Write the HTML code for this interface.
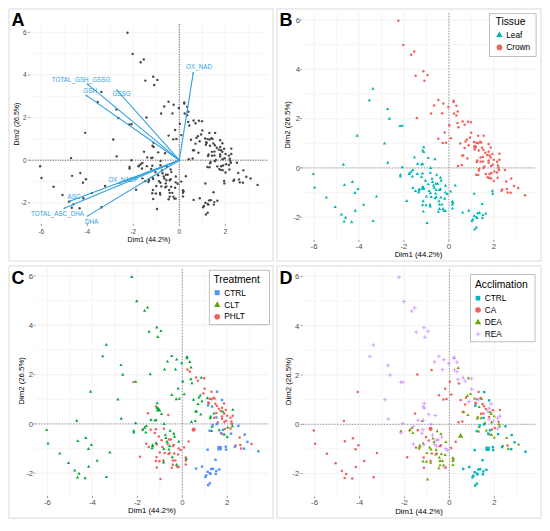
<!DOCTYPE html><html><head><meta charset="utf-8"><style>html,body{margin:0;padding:0;background:#fff;width:550px;height:531px;overflow:hidden}svg{display:block}</style></head><body><svg width="550" height="531" viewBox="0 0 550 531" font-family='"Liberation Sans", sans-serif'>
<rect width="550" height="531" fill="#fff"/>
<rect x="9" y="9" width="264" height="252" fill="none" stroke="#e5e5e5" stroke-width="1.4"/>
<rect x="277" y="9" width="264" height="252" fill="none" stroke="#e5e5e5" stroke-width="1.4"/>
<rect x="9" y="266" width="264" height="252" fill="none" stroke="#e5e5e5" stroke-width="1.4"/>
<rect x="277" y="266" width="264" height="252" fill="none" stroke="#e5e5e5" stroke-width="1.4"/>
<line x1="41.30" y1="24" x2="41.30" y2="224" stroke="#f6f6f6" stroke-width="1.3"/>
<line x1="64.30" y1="24" x2="64.30" y2="224" stroke="#f8f8f8" stroke-width="1.3"/>
<line x1="87.30" y1="24" x2="87.30" y2="224" stroke="#f6f6f6" stroke-width="1.3"/>
<line x1="110.30" y1="24" x2="110.30" y2="224" stroke="#f8f8f8" stroke-width="1.3"/>
<line x1="133.30" y1="24" x2="133.30" y2="224" stroke="#f6f6f6" stroke-width="1.3"/>
<line x1="156.30" y1="24" x2="156.30" y2="224" stroke="#f8f8f8" stroke-width="1.3"/>
<line x1="179.30" y1="24" x2="179.30" y2="224" stroke="#f6f6f6" stroke-width="1.3"/>
<line x1="202.30" y1="24" x2="202.30" y2="224" stroke="#f8f8f8" stroke-width="1.3"/>
<line x1="225.30" y1="24" x2="225.30" y2="224" stroke="#f6f6f6" stroke-width="1.3"/>
<line x1="248.30" y1="24" x2="248.30" y2="224" stroke="#f8f8f8" stroke-width="1.3"/>
<line x1="30" y1="202.80" x2="268" y2="202.80" stroke="#f6f6f6" stroke-width="1.3"/>
<line x1="30" y1="181.50" x2="268" y2="181.50" stroke="#f8f8f8" stroke-width="1.3"/>
<line x1="30" y1="160.20" x2="268" y2="160.20" stroke="#f6f6f6" stroke-width="1.3"/>
<line x1="30" y1="138.90" x2="268" y2="138.90" stroke="#f8f8f8" stroke-width="1.3"/>
<line x1="30" y1="117.60" x2="268" y2="117.60" stroke="#f6f6f6" stroke-width="1.3"/>
<line x1="30" y1="96.30" x2="268" y2="96.30" stroke="#f8f8f8" stroke-width="1.3"/>
<line x1="30" y1="75.00" x2="268" y2="75.00" stroke="#f6f6f6" stroke-width="1.3"/>
<line x1="30" y1="53.70" x2="268" y2="53.70" stroke="#f8f8f8" stroke-width="1.3"/>
<line x1="30" y1="32.40" x2="268" y2="32.40" stroke="#f6f6f6" stroke-width="1.3"/>
<line x1="179.30" y1="24" x2="179.30" y2="224" stroke="#585858" stroke-width="0.9" stroke-dasharray="1.25 1.25"/>
<line x1="30" y1="160.20" x2="268" y2="160.20" stroke="#585858" stroke-width="0.9" stroke-dasharray="1.25 1.25"/>
<line x1="41.30" y1="224" x2="41.30" y2="226" stroke="#555" stroke-width="0.6"/>
<text x="41.30" y="233.5" font-size="6.5" fill="#4d4d4d" text-anchor="middle">-6</text>
<line x1="87.30" y1="224" x2="87.30" y2="226" stroke="#555" stroke-width="0.6"/>
<text x="87.30" y="233.5" font-size="6.5" fill="#4d4d4d" text-anchor="middle">-4</text>
<line x1="133.30" y1="224" x2="133.30" y2="226" stroke="#555" stroke-width="0.6"/>
<text x="133.30" y="233.5" font-size="6.5" fill="#4d4d4d" text-anchor="middle">-2</text>
<line x1="179.30" y1="224" x2="179.30" y2="226" stroke="#555" stroke-width="0.6"/>
<text x="179.30" y="233.5" font-size="6.5" fill="#4d4d4d" text-anchor="middle">0</text>
<line x1="225.30" y1="224" x2="225.30" y2="226" stroke="#555" stroke-width="0.6"/>
<text x="225.30" y="233.5" font-size="6.5" fill="#4d4d4d" text-anchor="middle">2</text>
<line x1="28" y1="202.80" x2="30" y2="202.80" stroke="#555" stroke-width="0.6"/>
<text x="26.5" y="205.14" font-size="6.5" fill="#4d4d4d" text-anchor="end">-2</text>
<line x1="28" y1="160.20" x2="30" y2="160.20" stroke="#555" stroke-width="0.6"/>
<text x="26.5" y="162.54" font-size="6.5" fill="#4d4d4d" text-anchor="end">0</text>
<line x1="28" y1="117.60" x2="30" y2="117.60" stroke="#555" stroke-width="0.6"/>
<text x="26.5" y="119.94" font-size="6.5" fill="#4d4d4d" text-anchor="end">2</text>
<line x1="28" y1="75.00" x2="30" y2="75.00" stroke="#555" stroke-width="0.6"/>
<text x="26.5" y="77.34" font-size="6.5" fill="#4d4d4d" text-anchor="end">4</text>
<line x1="28" y1="32.40" x2="30" y2="32.40" stroke="#555" stroke-width="0.6"/>
<text x="26.5" y="34.74" font-size="6.5" fill="#4d4d4d" text-anchor="end">6</text>
<text x="149.00" y="241.5" font-size="7" fill="#000" text-anchor="middle">Dim1 (44.2%)</text>
<text transform="translate(18.8,124.00) rotate(-90)" font-size="7" fill="#000" text-anchor="middle">Dim2 (26.5%)</text>
<circle cx="127.53" cy="32.70" r="1.2" fill="#474747"/>
<circle cx="132.66" cy="53.89" r="1.2" fill="#474747"/>
<circle cx="143.76" cy="59.39" r="1.2" fill="#474747"/>
<circle cx="140.68" cy="62.27" r="1.2" fill="#474747"/>
<circle cx="153.21" cy="76.74" r="1.2" fill="#474747"/>
<circle cx="157.42" cy="79.88" r="1.2" fill="#474747"/>
<circle cx="145.30" cy="80.58" r="1.2" fill="#474747"/>
<circle cx="154.23" cy="85.03" r="1.2" fill="#474747"/>
<circle cx="168.51" cy="101.69" r="1.2" fill="#474747"/>
<circle cx="173.65" cy="104.74" r="1.2" fill="#474747"/>
<circle cx="164.20" cy="106.57" r="1.2" fill="#474747"/>
<circle cx="178.78" cy="107.97" r="1.2" fill="#474747"/>
<circle cx="161.12" cy="113.55" r="1.2" fill="#474747"/>
<circle cx="172.42" cy="113.38" r="1.2" fill="#474747"/>
<circle cx="146.43" cy="117.56" r="1.2" fill="#474747"/>
<circle cx="179.91" cy="123.84" r="1.2" fill="#474747"/>
<circle cx="175.09" cy="130.04" r="1.2" fill="#474747"/>
<circle cx="168.61" cy="135.62" r="1.2" fill="#474747"/>
<circle cx="184.23" cy="102.47" r="1.2" fill="#474747"/>
<circle cx="184.23" cy="103.61" r="1.2" fill="#474747"/>
<circle cx="187.10" cy="106.84" r="1.2" fill="#474747"/>
<circle cx="188.44" cy="111.81" r="1.2" fill="#474747"/>
<circle cx="184.64" cy="113.55" r="1.2" fill="#474747"/>
<circle cx="187.10" cy="115.21" r="1.2" fill="#474747"/>
<circle cx="193.57" cy="120.44" r="1.2" fill="#474747"/>
<circle cx="198.92" cy="120.70" r="1.2" fill="#474747"/>
<circle cx="202.00" cy="121.14" r="1.2" fill="#474747"/>
<circle cx="188.23" cy="121.92" r="1.2" fill="#474747"/>
<circle cx="195.53" cy="123.32" r="1.2" fill="#474747"/>
<circle cx="189.26" cy="125.50" r="1.2" fill="#474747"/>
<circle cx="202.31" cy="130.39" r="1.2" fill="#474747"/>
<circle cx="209.39" cy="132.91" r="1.2" fill="#474747"/>
<circle cx="215.14" cy="132.91" r="1.2" fill="#474747"/>
<circle cx="201.07" cy="134.57" r="1.2" fill="#474747"/>
<circle cx="181.35" cy="135.10" r="1.2" fill="#474747"/>
<circle cx="197.89" cy="136.14" r="1.2" fill="#474747"/>
<circle cx="173.24" cy="139.37" r="1.2" fill="#474747"/>
<circle cx="176.42" cy="139.02" r="1.2" fill="#474747"/>
<circle cx="196.45" cy="137.89" r="1.2" fill="#474747"/>
<circle cx="191.01" cy="139.81" r="1.2" fill="#474747"/>
<circle cx="205.18" cy="138.50" r="1.2" fill="#474747"/>
<circle cx="207.65" cy="139.11" r="1.2" fill="#474747"/>
<circle cx="209.50" cy="139.54" r="1.2" fill="#474747"/>
<circle cx="211.45" cy="138.15" r="1.2" fill="#474747"/>
<circle cx="212.47" cy="138.93" r="1.2" fill="#474747"/>
<circle cx="220.18" cy="140.15" r="1.2" fill="#474747"/>
<circle cx="199.63" cy="141.20" r="1.2" fill="#474747"/>
<circle cx="206.21" cy="142.25" r="1.2" fill="#474747"/>
<circle cx="206.62" cy="143.03" r="1.2" fill="#474747"/>
<circle cx="195.53" cy="143.64" r="1.2" fill="#474747"/>
<circle cx="205.90" cy="144.86" r="1.2" fill="#474747"/>
<circle cx="213.40" cy="143.38" r="1.2" fill="#474747"/>
<circle cx="222.33" cy="143.21" r="1.2" fill="#474747"/>
<circle cx="210.01" cy="145.82" r="1.2" fill="#474747"/>
<circle cx="214.84" cy="145.30" r="1.2" fill="#474747"/>
<circle cx="216.79" cy="147.74" r="1.2" fill="#474747"/>
<circle cx="220.18" cy="146.96" r="1.2" fill="#474747"/>
<circle cx="224.08" cy="148.79" r="1.2" fill="#474747"/>
<circle cx="231.27" cy="148.61" r="1.2" fill="#474747"/>
<circle cx="218.74" cy="149.66" r="1.2" fill="#474747"/>
<circle cx="221.10" cy="150.18" r="1.2" fill="#474747"/>
<circle cx="193.06" cy="150.18" r="1.2" fill="#474747"/>
<circle cx="194.09" cy="150.18" r="1.2" fill="#474747"/>
<circle cx="211.96" cy="151.84" r="1.2" fill="#474747"/>
<circle cx="214.43" cy="151.58" r="1.2" fill="#474747"/>
<circle cx="222.33" cy="151.84" r="1.2" fill="#474747"/>
<circle cx="198.40" cy="152.80" r="1.2" fill="#474747"/>
<circle cx="208.57" cy="154.55" r="1.2" fill="#474747"/>
<circle cx="211.96" cy="155.68" r="1.2" fill="#474747"/>
<circle cx="214.43" cy="155.42" r="1.2" fill="#474747"/>
<circle cx="220.18" cy="154.55" r="1.2" fill="#474747"/>
<circle cx="225.52" cy="153.94" r="1.2" fill="#474747"/>
<circle cx="231.27" cy="153.94" r="1.2" fill="#474747"/>
<circle cx="208.06" cy="155.94" r="1.2" fill="#474747"/>
<circle cx="220.18" cy="156.55" r="1.2" fill="#474747"/>
<circle cx="228.91" cy="155.59" r="1.2" fill="#474747"/>
<circle cx="224.49" cy="158.21" r="1.2" fill="#474747"/>
<circle cx="222.64" cy="159.26" r="1.2" fill="#474747"/>
<circle cx="229.83" cy="158.82" r="1.2" fill="#474747"/>
<circle cx="188.75" cy="159.26" r="1.2" fill="#474747"/>
<circle cx="192.65" cy="158.47" r="1.2" fill="#474747"/>
<circle cx="215.86" cy="159.87" r="1.2" fill="#474747"/>
<circle cx="214.84" cy="161.17" r="1.2" fill="#474747"/>
<circle cx="230.35" cy="160.91" r="1.2" fill="#474747"/>
<circle cx="210.52" cy="161.96" r="1.2" fill="#474747"/>
<circle cx="210.01" cy="163.35" r="1.2" fill="#474747"/>
<circle cx="230.86" cy="162.92" r="1.2" fill="#474747"/>
<circle cx="226.03" cy="164.14" r="1.2" fill="#474747"/>
<circle cx="223.05" cy="165.45" r="1.2" fill="#474747"/>
<circle cx="221.10" cy="166.23" r="1.2" fill="#474747"/>
<circle cx="228.91" cy="165.01" r="1.2" fill="#474747"/>
<circle cx="217.30" cy="166.41" r="1.2" fill="#474747"/>
<circle cx="207.44" cy="166.93" r="1.2" fill="#474747"/>
<circle cx="209.50" cy="167.19" r="1.2" fill="#474747"/>
<circle cx="219.25" cy="169.11" r="1.2" fill="#474747"/>
<circle cx="220.69" cy="169.90" r="1.2" fill="#474747"/>
<circle cx="222.64" cy="170.16" r="1.2" fill="#474747"/>
<circle cx="229.42" cy="169.55" r="1.2" fill="#474747"/>
<circle cx="225.52" cy="172.43" r="1.2" fill="#474747"/>
<circle cx="236.92" cy="162.74" r="1.2" fill="#474747"/>
<circle cx="243.39" cy="170.33" r="1.2" fill="#474747"/>
<circle cx="238.26" cy="172.95" r="1.2" fill="#474747"/>
<circle cx="246.27" cy="176.70" r="1.2" fill="#474747"/>
<circle cx="250.58" cy="178.53" r="1.2" fill="#474747"/>
<circle cx="238.97" cy="179.40" r="1.2" fill="#474747"/>
<circle cx="234.15" cy="179.75" r="1.2" fill="#474747"/>
<circle cx="233.43" cy="180.89" r="1.2" fill="#474747"/>
<circle cx="239.80" cy="182.37" r="1.2" fill="#474747"/>
<circle cx="242.88" cy="182.63" r="1.2" fill="#474747"/>
<circle cx="257.57" cy="184.90" r="1.2" fill="#474747"/>
<circle cx="101.34" cy="91.92" r="1.2" fill="#474747"/>
<circle cx="97.64" cy="101.95" r="1.2" fill="#474747"/>
<circle cx="85.21" cy="132.83" r="1.2" fill="#474747"/>
<circle cx="116.44" cy="109.54" r="1.2" fill="#474747"/>
<circle cx="118.28" cy="118.00" r="1.2" fill="#474747"/>
<circle cx="113.25" cy="139.54" r="1.2" fill="#474747"/>
<circle cx="116.64" cy="156.38" r="1.2" fill="#474747"/>
<circle cx="129.28" cy="124.37" r="1.2" fill="#474747"/>
<circle cx="131.53" cy="124.19" r="1.2" fill="#474747"/>
<circle cx="71.04" cy="158.12" r="1.2" fill="#474747"/>
<circle cx="40.12" cy="166.32" r="1.2" fill="#474747"/>
<circle cx="41.45" cy="178.01" r="1.2" fill="#474747"/>
<circle cx="72.06" cy="175.83" r="1.2" fill="#474747"/>
<circle cx="80.28" cy="173.12" r="1.2" fill="#474747"/>
<circle cx="86.03" cy="179.32" r="1.2" fill="#474747"/>
<circle cx="82.95" cy="182.72" r="1.2" fill="#474747"/>
<circle cx="53.57" cy="186.73" r="1.2" fill="#474747"/>
<circle cx="105.03" cy="185.95" r="1.2" fill="#474747"/>
<circle cx="62.51" cy="195.02" r="1.2" fill="#474747"/>
<circle cx="91.89" cy="193.10" r="1.2" fill="#474747"/>
<circle cx="83.26" cy="198.24" r="1.2" fill="#474747"/>
<circle cx="68.98" cy="201.65" r="1.2" fill="#474747"/>
<circle cx="73.30" cy="204.35" r="1.2" fill="#474747"/>
<circle cx="71.75" cy="207.75" r="1.2" fill="#474747"/>
<circle cx="79.56" cy="208.27" r="1.2" fill="#474747"/>
<circle cx="101.54" cy="207.23" r="1.2" fill="#474747"/>
<circle cx="153.62" cy="142.86" r="1.2" fill="#474747"/>
<circle cx="152.49" cy="145.74" r="1.2" fill="#474747"/>
<circle cx="153.62" cy="146.96" r="1.2" fill="#474747"/>
<circle cx="144.07" cy="151.67" r="1.2" fill="#474747"/>
<circle cx="158.14" cy="152.37" r="1.2" fill="#474747"/>
<circle cx="165.02" cy="153.32" r="1.2" fill="#474747"/>
<circle cx="147.25" cy="157.42" r="1.2" fill="#474747"/>
<circle cx="151.36" cy="158.03" r="1.2" fill="#474747"/>
<circle cx="152.49" cy="157.60" r="1.2" fill="#474747"/>
<circle cx="131.43" cy="160.30" r="1.2" fill="#474747"/>
<circle cx="160.60" cy="160.91" r="1.2" fill="#474747"/>
<circle cx="142.42" cy="162.83" r="1.2" fill="#474747"/>
<circle cx="140.78" cy="164.23" r="1.2" fill="#474747"/>
<circle cx="139.03" cy="165.71" r="1.2" fill="#474747"/>
<circle cx="138.52" cy="166.32" r="1.2" fill="#474747"/>
<circle cx="146.94" cy="166.15" r="1.2" fill="#474747"/>
<circle cx="152.28" cy="165.71" r="1.2" fill="#474747"/>
<circle cx="160.40" cy="165.19" r="1.2" fill="#474747"/>
<circle cx="129.58" cy="166.93" r="1.2" fill="#474747"/>
<circle cx="129.58" cy="168.50" r="1.2" fill="#474747"/>
<circle cx="141.91" cy="168.50" r="1.2" fill="#474747"/>
<circle cx="151.15" cy="168.85" r="1.2" fill="#474747"/>
<circle cx="166.87" cy="166.93" r="1.2" fill="#474747"/>
<circle cx="170.67" cy="169.46" r="1.2" fill="#474747"/>
<circle cx="162.04" cy="170.42" r="1.2" fill="#474747"/>
<circle cx="155.36" cy="172.08" r="1.2" fill="#474747"/>
<circle cx="171.39" cy="172.08" r="1.2" fill="#474747"/>
<circle cx="162.55" cy="173.30" r="1.2" fill="#474747"/>
<circle cx="158.14" cy="175.22" r="1.2" fill="#474747"/>
<circle cx="165.94" cy="174.69" r="1.2" fill="#474747"/>
<circle cx="167.69" cy="174.69" r="1.2" fill="#474747"/>
<circle cx="163.68" cy="176.44" r="1.2" fill="#474747"/>
<circle cx="175.80" cy="176.44" r="1.2" fill="#474747"/>
<circle cx="142.42" cy="178.36" r="1.2" fill="#474747"/>
<circle cx="152.49" cy="177.57" r="1.2" fill="#474747"/>
<circle cx="153.11" cy="178.97" r="1.2" fill="#474747"/>
<circle cx="148.89" cy="179.49" r="1.2" fill="#474747"/>
<circle cx="164.30" cy="178.53" r="1.2" fill="#474747"/>
<circle cx="170.67" cy="179.32" r="1.2" fill="#474747"/>
<circle cx="185.87" cy="176.26" r="1.2" fill="#474747"/>
<circle cx="145.09" cy="181.15" r="1.2" fill="#474747"/>
<circle cx="149.00" cy="180.45" r="1.2" fill="#474747"/>
<circle cx="148.38" cy="182.11" r="1.2" fill="#474747"/>
<circle cx="159.06" cy="181.15" r="1.2" fill="#474747"/>
<circle cx="160.40" cy="182.81" r="1.2" fill="#474747"/>
<circle cx="166.36" cy="180.19" r="1.2" fill="#474747"/>
<circle cx="169.74" cy="180.19" r="1.2" fill="#474747"/>
<circle cx="165.74" cy="183.33" r="1.2" fill="#474747"/>
<circle cx="156.29" cy="185.95" r="1.2" fill="#474747"/>
<circle cx="161.32" cy="186.38" r="1.2" fill="#474747"/>
<circle cx="165.23" cy="187.34" r="1.2" fill="#474747"/>
<circle cx="166.36" cy="186.38" r="1.2" fill="#474747"/>
<circle cx="136.05" cy="189.70" r="1.2" fill="#474747"/>
<circle cx="152.90" cy="189.96" r="1.2" fill="#474747"/>
<circle cx="169.13" cy="189.96" r="1.2" fill="#474747"/>
<circle cx="152.28" cy="193.27" r="1.2" fill="#474747"/>
<circle cx="155.88" cy="193.53" r="1.2" fill="#474747"/>
<circle cx="159.99" cy="193.01" r="1.2" fill="#474747"/>
<circle cx="160.19" cy="194.49" r="1.2" fill="#474747"/>
<circle cx="169.74" cy="192.84" r="1.2" fill="#474747"/>
<circle cx="153.21" cy="198.94" r="1.2" fill="#474747"/>
<circle cx="168.61" cy="199.20" r="1.2" fill="#474747"/>
<circle cx="169.74" cy="196.67" r="1.2" fill="#474747"/>
<circle cx="157.01" cy="208.97" r="1.2" fill="#474747"/>
<circle cx="175.70" cy="182.37" r="1.2" fill="#474747"/>
<circle cx="177.65" cy="183.68" r="1.2" fill="#474747"/>
<circle cx="181.25" cy="181.58" r="1.2" fill="#474747"/>
<circle cx="171.18" cy="186.82" r="1.2" fill="#474747"/>
<circle cx="175.09" cy="187.78" r="1.2" fill="#474747"/>
<circle cx="172.31" cy="192.84" r="1.2" fill="#474747"/>
<circle cx="183.00" cy="190.22" r="1.2" fill="#474747"/>
<circle cx="183.51" cy="191.35" r="1.2" fill="#474747"/>
<circle cx="183.00" cy="192.84" r="1.2" fill="#474747"/>
<circle cx="183.00" cy="196.41" r="1.2" fill="#474747"/>
<circle cx="173.44" cy="196.67" r="1.2" fill="#474747"/>
<circle cx="174.37" cy="198.59" r="1.2" fill="#474747"/>
<circle cx="175.70" cy="198.59" r="1.2" fill="#474747"/>
<circle cx="193.57" cy="199.90" r="1.2" fill="#474747"/>
<circle cx="199.74" cy="198.24" r="1.2" fill="#474747"/>
<circle cx="205.39" cy="183.50" r="1.2" fill="#474747"/>
<circle cx="213.50" cy="192.31" r="1.2" fill="#474747"/>
<circle cx="209.08" cy="200.42" r="1.2" fill="#474747"/>
<circle cx="210.93" cy="200.16" r="1.2" fill="#474747"/>
<circle cx="217.40" cy="200.69" r="1.2" fill="#474747"/>
<circle cx="205.39" cy="202.78" r="1.2" fill="#474747"/>
<circle cx="207.65" cy="204.00" r="1.2" fill="#474747"/>
<circle cx="208.37" cy="204.61" r="1.2" fill="#474747"/>
<circle cx="214.32" cy="202.08" r="1.2" fill="#474747"/>
<circle cx="213.81" cy="204.61" r="1.2" fill="#474747"/>
<circle cx="203.95" cy="205.92" r="1.2" fill="#474747"/>
<circle cx="203.13" cy="207.31" r="1.2" fill="#474747"/>
<circle cx="207.65" cy="212.81" r="1.2" fill="#474747"/>
<circle cx="205.90" cy="214.47" r="1.2" fill="#474747"/>
<circle cx="224.08" cy="180.89" r="1.2" fill="#474747"/>
<circle cx="224.39" cy="183.42" r="1.2" fill="#474747"/>
<line x1="179.30" y1="160.20" x2="86.9" y2="83.6" stroke="#2e9fdf" stroke-width="1.1"/>
<path d="M86.9 83.6L89.17 84.31L88.02 85.70Z" fill="#2e9fdf"/>
<text x="51.8" y="81.8" font-size="6.3" fill="#2e9fdf">TOTAL_GSH_GSSG</text>
<line x1="179.30" y1="160.20" x2="85.5" y2="94.9" stroke="#2e9fdf" stroke-width="1.1"/>
<path d="M85.5 94.9L87.82 95.42L86.79 96.90Z" fill="#2e9fdf"/>
<text x="83.3" y="92.7" font-size="6.3" fill="#2e9fdf">GSH</text>
<line x1="179.30" y1="160.20" x2="116.4" y2="89.5" stroke="#2e9fdf" stroke-width="1.1"/>
<path d="M116.4 89.5L118.53 90.55L117.19 91.74Z" fill="#2e9fdf"/>
<text x="112.4" y="95.5" font-size="6.3" fill="#2e9fdf">GSSG</text>
<line x1="179.30" y1="160.20" x2="193.4" y2="71.9" stroke="#2e9fdf" stroke-width="1.1"/>
<path d="M193.4 71.9L193.94 74.21L192.16 73.93Z" fill="#2e9fdf"/>
<text x="186.1" y="69.2" font-size="6.3" fill="#2e9fdf">OX_NAD</text>
<line x1="179.30" y1="160.20" x2="118.5" y2="183.5" stroke="#2e9fdf" stroke-width="1.1"/>
<path d="M118.5 183.5L120.23 181.87L120.88 183.55Z" fill="#2e9fdf"/>
<text x="108.2" y="181.9" font-size="6.3" fill="#2e9fdf">OX_NADP</text>
<line x1="179.30" y1="160.20" x2="69" y2="201.4" stroke="#2e9fdf" stroke-width="1.1"/>
<path d="M69 201.4L70.75 199.79L71.38 201.47Z" fill="#2e9fdf"/>
<text x="67.6" y="199" font-size="6.3" fill="#2e9fdf">ASC</text>
<line x1="179.30" y1="160.20" x2="63.6" y2="208.6" stroke="#2e9fdf" stroke-width="1.1"/>
<path d="M63.6 208.6L65.28 206.92L65.98 208.58Z" fill="#2e9fdf"/>
<text x="31" y="215.6" font-size="6.3" fill="#2e9fdf">TOTAL_ASC_DHA</text>
<line x1="179.30" y1="160.20" x2="87" y2="216.4" stroke="#2e9fdf" stroke-width="1.1"/>
<path d="M87 216.4L88.41 214.49L89.35 216.02Z" fill="#2e9fdf"/>
<text x="85" y="224" font-size="6.3" fill="#2e9fdf">DHA</text>
<text x="11.5" y="25.6" font-size="18" font-weight="bold" fill="#000">A</text>
<line x1="314.08" y1="13" x2="314.08" y2="240" stroke="#f4f4f4" stroke-width="1.3"/>
<line x1="336.55" y1="13" x2="336.55" y2="240" stroke="#f7f7f7" stroke-width="1.3"/>
<line x1="359.02" y1="13" x2="359.02" y2="240" stroke="#f4f4f4" stroke-width="1.3"/>
<line x1="381.49" y1="13" x2="381.49" y2="240" stroke="#f7f7f7" stroke-width="1.3"/>
<line x1="403.96" y1="13" x2="403.96" y2="240" stroke="#f4f4f4" stroke-width="1.3"/>
<line x1="426.43" y1="13" x2="426.43" y2="240" stroke="#f7f7f7" stroke-width="1.3"/>
<line x1="448.90" y1="13" x2="448.90" y2="240" stroke="#f4f4f4" stroke-width="1.3"/>
<line x1="471.37" y1="13" x2="471.37" y2="240" stroke="#f7f7f7" stroke-width="1.3"/>
<line x1="493.84" y1="13" x2="493.84" y2="240" stroke="#f4f4f4" stroke-width="1.3"/>
<line x1="516.31" y1="13" x2="516.31" y2="240" stroke="#f7f7f7" stroke-width="1.3"/>
<line x1="302" y1="217.20" x2="535" y2="217.20" stroke="#f4f4f4" stroke-width="1.3"/>
<line x1="302" y1="192.55" x2="535" y2="192.55" stroke="#f7f7f7" stroke-width="1.3"/>
<line x1="302" y1="167.90" x2="535" y2="167.90" stroke="#f4f4f4" stroke-width="1.3"/>
<line x1="302" y1="143.25" x2="535" y2="143.25" stroke="#f7f7f7" stroke-width="1.3"/>
<line x1="302" y1="118.60" x2="535" y2="118.60" stroke="#f4f4f4" stroke-width="1.3"/>
<line x1="302" y1="93.95" x2="535" y2="93.95" stroke="#f7f7f7" stroke-width="1.3"/>
<line x1="302" y1="69.30" x2="535" y2="69.30" stroke="#f4f4f4" stroke-width="1.3"/>
<line x1="302" y1="44.65" x2="535" y2="44.65" stroke="#f7f7f7" stroke-width="1.3"/>
<line x1="302" y1="20.00" x2="535" y2="20.00" stroke="#f4f4f4" stroke-width="1.3"/>
<line x1="448.90" y1="13" x2="448.90" y2="240" stroke="#808080" stroke-width="0.8" stroke-dasharray="1.45 1.45"/>
<line x1="302" y1="167.90" x2="535" y2="167.90" stroke="#808080" stroke-width="0.8" stroke-dasharray="1.45 1.45"/>
<line x1="314.08" y1="240" x2="314.08" y2="242" stroke="#555" stroke-width="0.6"/>
<text x="314.08" y="249.0" font-size="7.8" fill="#4d4d4d" text-anchor="middle">-6</text>
<line x1="359.02" y1="240" x2="359.02" y2="242" stroke="#555" stroke-width="0.6"/>
<text x="359.02" y="249.0" font-size="7.8" fill="#4d4d4d" text-anchor="middle">-4</text>
<line x1="403.96" y1="240" x2="403.96" y2="242" stroke="#555" stroke-width="0.6"/>
<text x="403.96" y="249.0" font-size="7.8" fill="#4d4d4d" text-anchor="middle">-2</text>
<line x1="448.90" y1="240" x2="448.90" y2="242" stroke="#555" stroke-width="0.6"/>
<text x="448.90" y="249.0" font-size="7.8" fill="#4d4d4d" text-anchor="middle">0</text>
<line x1="493.84" y1="240" x2="493.84" y2="242" stroke="#555" stroke-width="0.6"/>
<text x="493.84" y="249.0" font-size="7.8" fill="#4d4d4d" text-anchor="middle">2</text>
<line x1="300" y1="217.20" x2="302" y2="217.20" stroke="#555" stroke-width="0.6"/>
<text x="300.2" y="220.01" font-size="7.8" fill="#4d4d4d" text-anchor="end">-2</text>
<line x1="300" y1="167.90" x2="302" y2="167.90" stroke="#555" stroke-width="0.6"/>
<text x="300.2" y="170.71" font-size="7.8" fill="#4d4d4d" text-anchor="end">0</text>
<line x1="300" y1="118.60" x2="302" y2="118.60" stroke="#555" stroke-width="0.6"/>
<text x="300.2" y="121.41" font-size="7.8" fill="#4d4d4d" text-anchor="end">2</text>
<line x1="300" y1="69.30" x2="302" y2="69.30" stroke="#555" stroke-width="0.6"/>
<text x="300.2" y="72.11" font-size="7.8" fill="#4d4d4d" text-anchor="end">4</text>
<line x1="300" y1="20.00" x2="302" y2="20.00" stroke="#555" stroke-width="0.6"/>
<text x="300.2" y="22.81" font-size="7.8" fill="#4d4d4d" text-anchor="end">6</text>
<text x="418.50" y="257.3" font-size="7.8" fill="#000" text-anchor="middle">Dim1 (44.2%)</text>
<text transform="translate(290.2,124.90) rotate(-90)" font-size="7.8" fill="#000" text-anchor="middle">Dim2 (26.5%)</text>
<path d="M372.90 86.93L374.55 89.79L371.25 89.79Z" fill="#00b5b2"/>
<path d="M369.30 98.43L370.95 101.29L367.65 101.29Z" fill="#00b5b2"/>
<path d="M357.20 133.83L358.85 136.69L355.55 136.69Z" fill="#00b5b2"/>
<path d="M387.60 107.13L389.25 109.99L385.95 109.99Z" fill="#00b5b2"/>
<path d="M389.40 116.83L391.05 119.69L387.75 119.69Z" fill="#00b5b2"/>
<path d="M384.50 141.53L386.15 144.39L382.85 144.39Z" fill="#00b5b2"/>
<path d="M387.80 160.83L389.45 163.69L386.15 163.69Z" fill="#00b5b2"/>
<path d="M400.10 124.13L401.75 126.99L398.45 126.99Z" fill="#00b5b2"/>
<path d="M402.30 123.93L403.95 126.79L400.65 126.79Z" fill="#00b5b2"/>
<path d="M343.40 162.83L345.05 165.69L341.75 165.69Z" fill="#00b5b2"/>
<path d="M313.30 172.23L314.95 175.09L311.65 175.09Z" fill="#00b5b2"/>
<path d="M314.60 185.63L316.25 188.49L312.95 188.49Z" fill="#00b5b2"/>
<path d="M344.40 183.13L346.05 185.99L342.75 185.99Z" fill="#00b5b2"/>
<path d="M352.40 180.03L354.05 182.89L350.75 182.89Z" fill="#00b5b2"/>
<path d="M358.00 187.13L359.65 189.99L356.35 189.99Z" fill="#00b5b2"/>
<path d="M355.00 191.03L356.65 193.89L353.35 193.89Z" fill="#00b5b2"/>
<path d="M326.40 195.63L328.05 198.49L324.75 198.49Z" fill="#00b5b2"/>
<path d="M376.50 194.73L378.15 197.59L374.85 197.59Z" fill="#00b5b2"/>
<path d="M335.10 205.13L336.75 207.99L333.45 207.99Z" fill="#00b5b2"/>
<path d="M363.70 202.93L365.35 205.79L362.05 205.79Z" fill="#00b5b2"/>
<path d="M355.30 208.83L356.95 211.69L353.65 211.69Z" fill="#00b5b2"/>
<path d="M341.40 212.73L343.05 215.59L339.75 215.59Z" fill="#00b5b2"/>
<path d="M345.60 215.83L347.25 218.69L343.95 218.69Z" fill="#00b5b2"/>
<path d="M344.10 219.73L345.75 222.59L342.45 222.59Z" fill="#00b5b2"/>
<path d="M351.70 220.33L353.35 223.19L350.05 223.19Z" fill="#00b5b2"/>
<path d="M373.10 219.13L374.75 221.99L371.45 221.99Z" fill="#00b5b2"/>
<path d="M423.80 145.33L425.45 148.19L422.15 148.19Z" fill="#00b5b2"/>
<path d="M422.70 148.63L424.35 151.49L421.05 151.49Z" fill="#00b5b2"/>
<path d="M423.80 150.03L425.45 152.89L422.15 152.89Z" fill="#00b5b2"/>
<path d="M414.50 155.43L416.15 158.29L412.85 158.29Z" fill="#00b5b2"/>
<path d="M428.20 156.23L429.85 159.09L426.55 159.09Z" fill="#00b5b2"/>
<path d="M434.90 157.33L436.55 160.19L433.25 160.19Z" fill="#00b5b2"/>
<path d="M417.60 162.03L419.25 164.89L415.95 164.89Z" fill="#00b5b2"/>
<path d="M421.60 162.73L423.25 165.59L419.95 165.59Z" fill="#00b5b2"/>
<path d="M422.70 162.23L424.35 165.09L421.05 165.09Z" fill="#00b5b2"/>
<path d="M402.20 165.33L403.85 168.19L400.55 168.19Z" fill="#00b5b2"/>
<path d="M430.60 166.03L432.25 168.89L428.95 168.89Z" fill="#00b5b2"/>
<path d="M412.90 168.23L414.55 171.09L411.25 171.09Z" fill="#00b5b2"/>
<path d="M411.30 169.83L412.95 172.69L409.65 172.69Z" fill="#00b5b2"/>
<path d="M409.60 171.53L411.25 174.39L407.95 174.39Z" fill="#00b5b2"/>
<path d="M409.10 172.23L410.75 175.09L407.45 175.09Z" fill="#00b5b2"/>
<path d="M417.30 172.03L418.95 174.89L415.65 174.89Z" fill="#00b5b2"/>
<path d="M422.50 171.53L424.15 174.39L420.85 174.39Z" fill="#00b5b2"/>
<path d="M430.40 170.93L432.05 173.79L428.75 173.79Z" fill="#00b5b2"/>
<path d="M400.40 172.93L402.05 175.79L398.75 175.79Z" fill="#00b5b2"/>
<path d="M400.40 174.73L402.05 177.59L398.75 177.59Z" fill="#00b5b2"/>
<path d="M412.40 174.73L414.05 177.59L410.75 177.59Z" fill="#00b5b2"/>
<path d="M421.40 175.13L423.05 177.99L419.75 177.99Z" fill="#00b5b2"/>
<path d="M436.70 172.93L438.35 175.79L435.05 175.79Z" fill="#00b5b2"/>
<path d="M440.40 175.83L442.05 178.69L438.75 178.69Z" fill="#00b5b2"/>
<path d="M432.00 176.93L433.65 179.79L430.35 179.79Z" fill="#00b5b2"/>
<path d="M425.50 178.83L427.15 181.69L423.85 181.69Z" fill="#00b5b2"/>
<path d="M441.10 178.83L442.75 181.69L439.45 181.69Z" fill="#00b5b2"/>
<path d="M432.50 180.23L434.15 183.09L430.85 183.09Z" fill="#00b5b2"/>
<path d="M428.20 182.43L429.85 185.29L426.55 185.29Z" fill="#00b5b2"/>
<path d="M435.80 181.83L437.45 184.69L434.15 184.69Z" fill="#00b5b2"/>
<path d="M437.50 181.83L439.15 184.69L435.85 184.69Z" fill="#00b5b2"/>
<path d="M433.60 183.83L435.25 186.69L431.95 186.69Z" fill="#00b5b2"/>
<path d="M445.40 183.83L447.05 186.69L443.75 186.69Z" fill="#00b5b2"/>
<path d="M412.90 186.03L414.55 188.89L411.25 188.89Z" fill="#00b5b2"/>
<path d="M422.70 185.13L424.35 187.99L421.05 187.99Z" fill="#00b5b2"/>
<path d="M423.30 186.73L424.95 189.59L421.65 189.59Z" fill="#00b5b2"/>
<path d="M419.20 187.33L420.85 190.19L417.55 190.19Z" fill="#00b5b2"/>
<path d="M434.20 186.23L435.85 189.09L432.55 189.09Z" fill="#00b5b2"/>
<path d="M440.40 187.13L442.05 189.99L438.75 189.99Z" fill="#00b5b2"/>
<path d="M455.20 183.63L456.85 186.49L453.55 186.49Z" fill="#00b5b2"/>
<path d="M415.50 189.23L417.15 192.09L413.85 192.09Z" fill="#00b5b2"/>
<path d="M419.30 188.43L420.95 191.29L417.65 191.29Z" fill="#00b5b2"/>
<path d="M418.70 190.33L420.35 193.19L417.05 193.19Z" fill="#00b5b2"/>
<path d="M429.10 189.23L430.75 192.09L427.45 192.09Z" fill="#00b5b2"/>
<path d="M430.40 191.13L432.05 193.99L428.75 193.99Z" fill="#00b5b2"/>
<path d="M436.20 188.13L437.85 190.99L434.55 190.99Z" fill="#00b5b2"/>
<path d="M439.50 188.13L441.15 190.99L437.85 190.99Z" fill="#00b5b2"/>
<path d="M435.60 191.73L437.25 194.59L433.95 194.59Z" fill="#00b5b2"/>
<path d="M426.40 194.73L428.05 197.59L424.75 197.59Z" fill="#00b5b2"/>
<path d="M431.30 195.23L432.95 198.09L429.65 198.09Z" fill="#00b5b2"/>
<path d="M435.10 196.33L436.75 199.19L433.45 199.19Z" fill="#00b5b2"/>
<path d="M436.20 195.23L437.85 198.09L434.55 198.09Z" fill="#00b5b2"/>
<path d="M406.70 199.03L408.35 201.89L405.05 201.89Z" fill="#00b5b2"/>
<path d="M423.10 199.33L424.75 202.19L421.45 202.19Z" fill="#00b5b2"/>
<path d="M438.90 199.33L440.55 202.19L437.25 202.19Z" fill="#00b5b2"/>
<path d="M422.50 203.13L424.15 205.99L420.85 205.99Z" fill="#00b5b2"/>
<path d="M426.00 203.43L427.65 206.29L424.35 206.29Z" fill="#00b5b2"/>
<path d="M430.00 202.83L431.65 205.69L428.35 205.69Z" fill="#00b5b2"/>
<path d="M430.20 204.53L431.85 207.39L428.55 207.39Z" fill="#00b5b2"/>
<path d="M439.50 202.63L441.15 205.49L437.85 205.49Z" fill="#00b5b2"/>
<path d="M423.40 209.63L425.05 212.49L421.75 212.49Z" fill="#00b5b2"/>
<path d="M438.40 209.93L440.05 212.79L436.75 212.79Z" fill="#00b5b2"/>
<path d="M439.50 207.03L441.15 209.89L437.85 209.89Z" fill="#00b5b2"/>
<path d="M427.10 221.13L428.75 223.99L425.45 223.99Z" fill="#00b5b2"/>
<path d="M445.30 190.63L446.95 193.49L443.65 193.49Z" fill="#00b5b2"/>
<path d="M447.20 192.13L448.85 194.99L445.55 194.99Z" fill="#00b5b2"/>
<path d="M450.70 189.73L452.35 192.59L449.05 192.59Z" fill="#00b5b2"/>
<path d="M440.90 195.73L442.55 198.59L439.25 198.59Z" fill="#00b5b2"/>
<path d="M444.70 196.83L446.35 199.69L443.05 199.69Z" fill="#00b5b2"/>
<path d="M442.00 202.63L443.65 205.49L440.35 205.49Z" fill="#00b5b2"/>
<path d="M452.40 199.63L454.05 202.49L450.75 202.49Z" fill="#00b5b2"/>
<path d="M452.90 200.93L454.55 203.79L451.25 203.79Z" fill="#00b5b2"/>
<path d="M452.40 202.63L454.05 205.49L450.75 205.49Z" fill="#00b5b2"/>
<path d="M452.40 206.73L454.05 209.59L450.75 209.59Z" fill="#00b5b2"/>
<path d="M443.10 207.03L444.75 209.89L441.45 209.89Z" fill="#00b5b2"/>
<path d="M444.00 209.23L445.65 212.09L442.35 212.09Z" fill="#00b5b2"/>
<path d="M445.30 209.23L446.95 212.09L443.65 212.09Z" fill="#00b5b2"/>
<path d="M462.70 210.73L464.35 213.59L461.05 213.59Z" fill="#00b5b2"/>
<path d="M468.70 208.83L470.35 211.69L467.05 211.69Z" fill="#00b5b2"/>
<path d="M474.20 191.93L475.85 194.79L472.55 194.79Z" fill="#00b5b2"/>
<path d="M482.10 202.03L483.75 204.89L480.45 204.89Z" fill="#00b5b2"/>
<path d="M477.80 211.33L479.45 214.19L476.15 214.19Z" fill="#00b5b2"/>
<path d="M479.60 211.03L481.25 213.89L477.95 213.89Z" fill="#00b5b2"/>
<path d="M485.90 211.63L487.55 214.49L484.25 214.49Z" fill="#00b5b2"/>
<path d="M474.20 214.03L475.85 216.89L472.55 216.89Z" fill="#00b5b2"/>
<path d="M476.40 215.43L478.05 218.29L474.75 218.29Z" fill="#00b5b2"/>
<path d="M477.10 216.13L478.75 218.99L475.45 218.99Z" fill="#00b5b2"/>
<path d="M482.90 213.23L484.55 216.09L481.25 216.09Z" fill="#00b5b2"/>
<path d="M482.40 216.13L484.05 218.99L480.75 218.99Z" fill="#00b5b2"/>
<path d="M472.80 217.63L474.45 220.49L471.15 220.49Z" fill="#00b5b2"/>
<path d="M472.00 219.23L473.65 222.09L470.35 222.09Z" fill="#00b5b2"/>
<path d="M476.40 225.53L478.05 228.39L474.75 228.39Z" fill="#00b5b2"/>
<path d="M474.70 227.43L476.35 230.29L473.05 230.29Z" fill="#00b5b2"/>
<path d="M492.40 188.93L494.05 191.79L490.75 191.79Z" fill="#00b5b2"/>
<path d="M492.70 191.83L494.35 194.69L491.05 194.69Z" fill="#00b5b2"/>
<circle cx="398.40" cy="20.80" r="1.25" fill="#f35f5b"/>
<circle cx="403.40" cy="45.10" r="1.25" fill="#f35f5b"/>
<circle cx="414.20" cy="51.40" r="1.25" fill="#f35f5b"/>
<circle cx="411.20" cy="54.70" r="1.25" fill="#f35f5b"/>
<circle cx="423.40" cy="71.30" r="1.25" fill="#f35f5b"/>
<circle cx="427.50" cy="74.90" r="1.25" fill="#f35f5b"/>
<circle cx="415.70" cy="75.70" r="1.25" fill="#f35f5b"/>
<circle cx="424.40" cy="80.80" r="1.25" fill="#f35f5b"/>
<circle cx="438.30" cy="99.90" r="1.25" fill="#f35f5b"/>
<circle cx="443.30" cy="103.40" r="1.25" fill="#f35f5b"/>
<circle cx="434.10" cy="105.50" r="1.25" fill="#f35f5b"/>
<circle cx="448.30" cy="107.10" r="1.25" fill="#f35f5b"/>
<circle cx="431.10" cy="113.50" r="1.25" fill="#f35f5b"/>
<circle cx="442.10" cy="113.30" r="1.25" fill="#f35f5b"/>
<circle cx="416.80" cy="118.10" r="1.25" fill="#f35f5b"/>
<circle cx="449.40" cy="125.30" r="1.25" fill="#f35f5b"/>
<circle cx="444.70" cy="132.40" r="1.25" fill="#f35f5b"/>
<circle cx="438.40" cy="138.80" r="1.25" fill="#f35f5b"/>
<circle cx="453.60" cy="100.80" r="1.25" fill="#f35f5b"/>
<circle cx="453.60" cy="102.10" r="1.25" fill="#f35f5b"/>
<circle cx="456.40" cy="105.80" r="1.25" fill="#f35f5b"/>
<circle cx="457.70" cy="111.50" r="1.25" fill="#f35f5b"/>
<circle cx="454.00" cy="113.50" r="1.25" fill="#f35f5b"/>
<circle cx="456.40" cy="115.40" r="1.25" fill="#f35f5b"/>
<circle cx="462.70" cy="121.40" r="1.25" fill="#f35f5b"/>
<circle cx="467.90" cy="121.70" r="1.25" fill="#f35f5b"/>
<circle cx="470.90" cy="122.20" r="1.25" fill="#f35f5b"/>
<circle cx="457.50" cy="123.10" r="1.25" fill="#f35f5b"/>
<circle cx="464.60" cy="124.70" r="1.25" fill="#f35f5b"/>
<circle cx="458.50" cy="127.20" r="1.25" fill="#f35f5b"/>
<circle cx="471.20" cy="132.80" r="1.25" fill="#f35f5b"/>
<circle cx="478.10" cy="135.70" r="1.25" fill="#f35f5b"/>
<circle cx="483.70" cy="135.70" r="1.25" fill="#f35f5b"/>
<circle cx="470.00" cy="137.60" r="1.25" fill="#f35f5b"/>
<circle cx="450.80" cy="138.20" r="1.25" fill="#f35f5b"/>
<circle cx="466.90" cy="139.40" r="1.25" fill="#f35f5b"/>
<circle cx="442.90" cy="143.10" r="1.25" fill="#f35f5b"/>
<circle cx="446.00" cy="142.70" r="1.25" fill="#f35f5b"/>
<circle cx="465.50" cy="141.40" r="1.25" fill="#f35f5b"/>
<circle cx="460.20" cy="143.60" r="1.25" fill="#f35f5b"/>
<circle cx="474.00" cy="142.10" r="1.25" fill="#f35f5b"/>
<circle cx="476.40" cy="142.80" r="1.25" fill="#f35f5b"/>
<circle cx="478.20" cy="143.30" r="1.25" fill="#f35f5b"/>
<circle cx="480.10" cy="141.70" r="1.25" fill="#f35f5b"/>
<circle cx="481.10" cy="142.60" r="1.25" fill="#f35f5b"/>
<circle cx="488.60" cy="144.00" r="1.25" fill="#f35f5b"/>
<circle cx="468.60" cy="145.20" r="1.25" fill="#f35f5b"/>
<circle cx="475.00" cy="146.40" r="1.25" fill="#f35f5b"/>
<circle cx="475.40" cy="147.30" r="1.25" fill="#f35f5b"/>
<circle cx="464.60" cy="148.00" r="1.25" fill="#f35f5b"/>
<circle cx="474.70" cy="149.40" r="1.25" fill="#f35f5b"/>
<circle cx="482.00" cy="147.70" r="1.25" fill="#f35f5b"/>
<circle cx="490.70" cy="147.50" r="1.25" fill="#f35f5b"/>
<circle cx="478.70" cy="150.50" r="1.25" fill="#f35f5b"/>
<circle cx="483.40" cy="149.90" r="1.25" fill="#f35f5b"/>
<circle cx="485.30" cy="152.70" r="1.25" fill="#f35f5b"/>
<circle cx="488.60" cy="151.80" r="1.25" fill="#f35f5b"/>
<circle cx="492.40" cy="153.90" r="1.25" fill="#f35f5b"/>
<circle cx="499.40" cy="153.70" r="1.25" fill="#f35f5b"/>
<circle cx="487.20" cy="154.90" r="1.25" fill="#f35f5b"/>
<circle cx="489.50" cy="155.50" r="1.25" fill="#f35f5b"/>
<circle cx="462.20" cy="155.50" r="1.25" fill="#f35f5b"/>
<circle cx="463.20" cy="155.50" r="1.25" fill="#f35f5b"/>
<circle cx="480.60" cy="157.40" r="1.25" fill="#f35f5b"/>
<circle cx="483.00" cy="157.10" r="1.25" fill="#f35f5b"/>
<circle cx="490.70" cy="157.40" r="1.25" fill="#f35f5b"/>
<circle cx="467.40" cy="158.50" r="1.25" fill="#f35f5b"/>
<circle cx="477.30" cy="160.50" r="1.25" fill="#f35f5b"/>
<circle cx="480.60" cy="161.80" r="1.25" fill="#f35f5b"/>
<circle cx="483.00" cy="161.50" r="1.25" fill="#f35f5b"/>
<circle cx="488.60" cy="160.50" r="1.25" fill="#f35f5b"/>
<circle cx="493.80" cy="159.80" r="1.25" fill="#f35f5b"/>
<circle cx="499.40" cy="159.80" r="1.25" fill="#f35f5b"/>
<circle cx="476.80" cy="162.10" r="1.25" fill="#f35f5b"/>
<circle cx="488.60" cy="162.80" r="1.25" fill="#f35f5b"/>
<circle cx="497.10" cy="161.70" r="1.25" fill="#f35f5b"/>
<circle cx="492.80" cy="164.70" r="1.25" fill="#f35f5b"/>
<circle cx="491.00" cy="165.90" r="1.25" fill="#f35f5b"/>
<circle cx="498.00" cy="165.40" r="1.25" fill="#f35f5b"/>
<circle cx="458.00" cy="165.90" r="1.25" fill="#f35f5b"/>
<circle cx="461.80" cy="165.00" r="1.25" fill="#f35f5b"/>
<circle cx="484.40" cy="166.60" r="1.25" fill="#f35f5b"/>
<circle cx="483.40" cy="168.10" r="1.25" fill="#f35f5b"/>
<circle cx="498.50" cy="167.80" r="1.25" fill="#f35f5b"/>
<circle cx="479.20" cy="169.00" r="1.25" fill="#f35f5b"/>
<circle cx="478.70" cy="170.60" r="1.25" fill="#f35f5b"/>
<circle cx="499.00" cy="170.10" r="1.25" fill="#f35f5b"/>
<circle cx="494.30" cy="171.50" r="1.25" fill="#f35f5b"/>
<circle cx="491.40" cy="173.00" r="1.25" fill="#f35f5b"/>
<circle cx="489.50" cy="173.90" r="1.25" fill="#f35f5b"/>
<circle cx="497.10" cy="172.50" r="1.25" fill="#f35f5b"/>
<circle cx="485.80" cy="174.10" r="1.25" fill="#f35f5b"/>
<circle cx="476.20" cy="174.70" r="1.25" fill="#f35f5b"/>
<circle cx="478.20" cy="175.00" r="1.25" fill="#f35f5b"/>
<circle cx="487.70" cy="177.20" r="1.25" fill="#f35f5b"/>
<circle cx="489.10" cy="178.10" r="1.25" fill="#f35f5b"/>
<circle cx="491.00" cy="178.40" r="1.25" fill="#f35f5b"/>
<circle cx="497.60" cy="177.70" r="1.25" fill="#f35f5b"/>
<circle cx="493.80" cy="181.00" r="1.25" fill="#f35f5b"/>
<circle cx="504.90" cy="169.90" r="1.25" fill="#f35f5b"/>
<circle cx="511.20" cy="178.60" r="1.25" fill="#f35f5b"/>
<circle cx="506.20" cy="181.60" r="1.25" fill="#f35f5b"/>
<circle cx="514.00" cy="185.90" r="1.25" fill="#f35f5b"/>
<circle cx="518.20" cy="188.00" r="1.25" fill="#f35f5b"/>
<circle cx="506.90" cy="189.00" r="1.25" fill="#f35f5b"/>
<circle cx="502.20" cy="189.40" r="1.25" fill="#f35f5b"/>
<circle cx="501.50" cy="190.70" r="1.25" fill="#f35f5b"/>
<circle cx="507.70" cy="192.40" r="1.25" fill="#f35f5b"/>
<circle cx="510.70" cy="192.70" r="1.25" fill="#f35f5b"/>
<circle cx="525.00" cy="195.30" r="1.25" fill="#f35f5b"/>
<path d="M423.10 185.32L425.60 189.65L420.60 189.65Z" fill="#00b5b2"/>
<circle cx="475.00" cy="146.70" r="2.0" fill="#f35f5b"/>
<text x="279.5" y="25.8" font-size="18" font-weight="bold" fill="#000">B</text>
<rect x="489.5" y="13.7" width="46.6" height="42.8" fill="#fff" stroke="#b0b0b0" stroke-width="0.8"/>
<text x="495.5" y="25.3" font-size="10.3" fill="#000">Tissue</text>
<path d="M499.40 31.56L502.60 37.11L496.20 37.11Z" fill="#00b5b2"/>
<text x="506.2" y="38" font-size="8.3" fill="#000">Leaf</text>
<circle cx="499.50" cy="47.40" r="2.8" fill="#f35f5b"/>
<text x="506.2" y="49.8" font-size="8.3" fill="#000">Crown</text>
<line x1="47.48" y1="269" x2="47.48" y2="496" stroke="#f4f4f4" stroke-width="1.3"/>
<line x1="69.95" y1="269" x2="69.95" y2="496" stroke="#f7f7f7" stroke-width="1.3"/>
<line x1="92.42" y1="269" x2="92.42" y2="496" stroke="#f4f4f4" stroke-width="1.3"/>
<line x1="114.89" y1="269" x2="114.89" y2="496" stroke="#f7f7f7" stroke-width="1.3"/>
<line x1="137.36" y1="269" x2="137.36" y2="496" stroke="#f4f4f4" stroke-width="1.3"/>
<line x1="159.83" y1="269" x2="159.83" y2="496" stroke="#f7f7f7" stroke-width="1.3"/>
<line x1="182.30" y1="269" x2="182.30" y2="496" stroke="#f4f4f4" stroke-width="1.3"/>
<line x1="204.77" y1="269" x2="204.77" y2="496" stroke="#f7f7f7" stroke-width="1.3"/>
<line x1="227.24" y1="269" x2="227.24" y2="496" stroke="#f4f4f4" stroke-width="1.3"/>
<line x1="249.71" y1="269" x2="249.71" y2="496" stroke="#f7f7f7" stroke-width="1.3"/>
<line x1="35.39999999999998" y1="473.20" x2="268.4" y2="473.20" stroke="#f4f4f4" stroke-width="1.3"/>
<line x1="35.39999999999998" y1="448.55" x2="268.4" y2="448.55" stroke="#f7f7f7" stroke-width="1.3"/>
<line x1="35.39999999999998" y1="423.90" x2="268.4" y2="423.90" stroke="#f4f4f4" stroke-width="1.3"/>
<line x1="35.39999999999998" y1="399.25" x2="268.4" y2="399.25" stroke="#f7f7f7" stroke-width="1.3"/>
<line x1="35.39999999999998" y1="374.60" x2="268.4" y2="374.60" stroke="#f4f4f4" stroke-width="1.3"/>
<line x1="35.39999999999998" y1="349.95" x2="268.4" y2="349.95" stroke="#f7f7f7" stroke-width="1.3"/>
<line x1="35.39999999999998" y1="325.30" x2="268.4" y2="325.30" stroke="#f4f4f4" stroke-width="1.3"/>
<line x1="35.39999999999998" y1="300.65" x2="268.4" y2="300.65" stroke="#f7f7f7" stroke-width="1.3"/>
<line x1="35.39999999999998" y1="276.00" x2="268.4" y2="276.00" stroke="#f4f4f4" stroke-width="1.3"/>
<line x1="182.30" y1="269" x2="182.30" y2="496" stroke="#808080" stroke-width="0.8" stroke-dasharray="1.45 1.45"/>
<line x1="35.39999999999998" y1="423.90" x2="268.4" y2="423.90" stroke="#808080" stroke-width="0.8" stroke-dasharray="1.45 1.45"/>
<line x1="47.48" y1="496" x2="47.48" y2="498" stroke="#555" stroke-width="0.6"/>
<text x="47.48" y="505.0" font-size="7.8" fill="#4d4d4d" text-anchor="middle">-6</text>
<line x1="92.42" y1="496" x2="92.42" y2="498" stroke="#555" stroke-width="0.6"/>
<text x="92.42" y="505.0" font-size="7.8" fill="#4d4d4d" text-anchor="middle">-4</text>
<line x1="137.36" y1="496" x2="137.36" y2="498" stroke="#555" stroke-width="0.6"/>
<text x="137.36" y="505.0" font-size="7.8" fill="#4d4d4d" text-anchor="middle">-2</text>
<line x1="182.30" y1="496" x2="182.30" y2="498" stroke="#555" stroke-width="0.6"/>
<text x="182.30" y="505.0" font-size="7.8" fill="#4d4d4d" text-anchor="middle">0</text>
<line x1="227.24" y1="496" x2="227.24" y2="498" stroke="#555" stroke-width="0.6"/>
<text x="227.24" y="505.0" font-size="7.8" fill="#4d4d4d" text-anchor="middle">2</text>
<line x1="33.39999999999998" y1="473.20" x2="35.39999999999998" y2="473.20" stroke="#555" stroke-width="0.6"/>
<text x="33.19999999999999" y="476.01" font-size="7.8" fill="#4d4d4d" text-anchor="end">-2</text>
<line x1="33.39999999999998" y1="423.90" x2="35.39999999999998" y2="423.90" stroke="#555" stroke-width="0.6"/>
<text x="33.19999999999999" y="426.71" font-size="7.8" fill="#4d4d4d" text-anchor="end">0</text>
<line x1="33.39999999999998" y1="374.60" x2="35.39999999999998" y2="374.60" stroke="#555" stroke-width="0.6"/>
<text x="33.19999999999999" y="377.41" font-size="7.8" fill="#4d4d4d" text-anchor="end">2</text>
<line x1="33.39999999999998" y1="325.30" x2="35.39999999999998" y2="325.30" stroke="#555" stroke-width="0.6"/>
<text x="33.19999999999999" y="328.11" font-size="7.8" fill="#4d4d4d" text-anchor="end">4</text>
<line x1="33.39999999999998" y1="276.00" x2="35.39999999999998" y2="276.00" stroke="#555" stroke-width="0.6"/>
<text x="33.19999999999999" y="278.81" font-size="7.8" fill="#4d4d4d" text-anchor="end">6</text>
<text x="151.90" y="513.3" font-size="7.8" fill="#000" text-anchor="middle">Dim1 (44.2%)</text>
<text transform="translate(23.599999999999966,380.90) rotate(-90)" font-size="7.8" fill="#000" text-anchor="middle">Dim2 (26.5%)</text>
<circle cx="187.40" cy="369.50" r="1.25" fill="#f35f5b"/>
<circle cx="189.80" cy="371.40" r="1.25" fill="#f35f5b"/>
<circle cx="196.10" cy="377.40" r="1.25" fill="#f35f5b"/>
<circle cx="204.30" cy="378.20" r="1.25" fill="#f35f5b"/>
<circle cx="198.00" cy="380.70" r="1.25" fill="#f35f5b"/>
<circle cx="204.60" cy="388.80" r="1.25" fill="#f35f5b"/>
<circle cx="211.50" cy="391.70" r="1.25" fill="#f35f5b"/>
<circle cx="203.40" cy="393.60" r="1.25" fill="#f35f5b"/>
<circle cx="209.80" cy="398.80" r="1.25" fill="#f35f5b"/>
<circle cx="211.60" cy="399.30" r="1.25" fill="#f35f5b"/>
<circle cx="213.50" cy="397.70" r="1.25" fill="#f35f5b"/>
<circle cx="214.50" cy="398.60" r="1.25" fill="#f35f5b"/>
<circle cx="208.40" cy="402.40" r="1.25" fill="#f35f5b"/>
<circle cx="208.80" cy="403.30" r="1.25" fill="#f35f5b"/>
<circle cx="215.40" cy="403.70" r="1.25" fill="#f35f5b"/>
<circle cx="224.10" cy="403.50" r="1.25" fill="#f35f5b"/>
<circle cx="216.80" cy="405.90" r="1.25" fill="#f35f5b"/>
<circle cx="218.70" cy="408.70" r="1.25" fill="#f35f5b"/>
<circle cx="222.00" cy="407.80" r="1.25" fill="#f35f5b"/>
<circle cx="225.80" cy="409.90" r="1.25" fill="#f35f5b"/>
<circle cx="220.60" cy="410.90" r="1.25" fill="#f35f5b"/>
<circle cx="216.40" cy="413.10" r="1.25" fill="#f35f5b"/>
<circle cx="224.10" cy="413.40" r="1.25" fill="#f35f5b"/>
<circle cx="214.00" cy="417.80" r="1.25" fill="#f35f5b"/>
<circle cx="222.00" cy="416.50" r="1.25" fill="#f35f5b"/>
<circle cx="227.20" cy="415.80" r="1.25" fill="#f35f5b"/>
<circle cx="232.80" cy="415.80" r="1.25" fill="#f35f5b"/>
<circle cx="222.00" cy="418.80" r="1.25" fill="#f35f5b"/>
<circle cx="230.50" cy="417.70" r="1.25" fill="#f35f5b"/>
<circle cx="226.20" cy="420.70" r="1.25" fill="#f35f5b"/>
<circle cx="224.40" cy="421.90" r="1.25" fill="#f35f5b"/>
<circle cx="231.40" cy="421.40" r="1.25" fill="#f35f5b"/>
<circle cx="217.80" cy="422.60" r="1.25" fill="#f35f5b"/>
<circle cx="231.90" cy="423.80" r="1.25" fill="#f35f5b"/>
<circle cx="224.80" cy="429.00" r="1.25" fill="#f35f5b"/>
<circle cx="230.50" cy="428.50" r="1.25" fill="#f35f5b"/>
<circle cx="222.50" cy="434.10" r="1.25" fill="#f35f5b"/>
<circle cx="239.60" cy="437.60" r="1.25" fill="#f35f5b"/>
<circle cx="251.60" cy="444.00" r="1.25" fill="#f35f5b"/>
<circle cx="240.30" cy="445.00" r="1.25" fill="#f35f5b"/>
<circle cx="235.60" cy="445.40" r="1.25" fill="#f35f5b"/>
<circle cx="241.10" cy="448.40" r="1.25" fill="#f35f5b"/>
<circle cx="133.50" cy="381.90" r="1.25" fill="#f35f5b"/>
<circle cx="156.10" cy="406.40" r="1.25" fill="#f35f5b"/>
<circle cx="147.90" cy="413.20" r="1.25" fill="#f35f5b"/>
<circle cx="168.30" cy="415.10" r="1.25" fill="#f35f5b"/>
<circle cx="142.50" cy="430.00" r="1.25" fill="#f35f5b"/>
<circle cx="150.70" cy="429.80" r="1.25" fill="#f35f5b"/>
<circle cx="155.90" cy="429.30" r="1.25" fill="#f35f5b"/>
<circle cx="163.80" cy="428.70" r="1.25" fill="#f35f5b"/>
<circle cx="154.80" cy="432.90" r="1.25" fill="#f35f5b"/>
<circle cx="158.90" cy="436.60" r="1.25" fill="#f35f5b"/>
<circle cx="161.60" cy="440.20" r="1.25" fill="#f35f5b"/>
<circle cx="169.20" cy="439.60" r="1.25" fill="#f35f5b"/>
<circle cx="170.90" cy="439.60" r="1.25" fill="#f35f5b"/>
<circle cx="146.30" cy="443.80" r="1.25" fill="#f35f5b"/>
<circle cx="156.70" cy="444.50" r="1.25" fill="#f35f5b"/>
<circle cx="167.60" cy="444.00" r="1.25" fill="#f35f5b"/>
<circle cx="173.80" cy="444.90" r="1.25" fill="#f35f5b"/>
<circle cx="188.60" cy="441.40" r="1.25" fill="#f35f5b"/>
<circle cx="148.90" cy="447.00" r="1.25" fill="#f35f5b"/>
<circle cx="162.50" cy="447.00" r="1.25" fill="#f35f5b"/>
<circle cx="172.90" cy="445.90" r="1.25" fill="#f35f5b"/>
<circle cx="159.80" cy="452.50" r="1.25" fill="#f35f5b"/>
<circle cx="164.70" cy="453.00" r="1.25" fill="#f35f5b"/>
<circle cx="168.50" cy="454.10" r="1.25" fill="#f35f5b"/>
<circle cx="169.60" cy="453.00" r="1.25" fill="#f35f5b"/>
<circle cx="140.10" cy="456.80" r="1.25" fill="#f35f5b"/>
<circle cx="156.50" cy="457.10" r="1.25" fill="#f35f5b"/>
<circle cx="155.90" cy="460.90" r="1.25" fill="#f35f5b"/>
<circle cx="159.40" cy="461.20" r="1.25" fill="#f35f5b"/>
<circle cx="163.40" cy="460.60" r="1.25" fill="#f35f5b"/>
<circle cx="172.90" cy="460.40" r="1.25" fill="#f35f5b"/>
<circle cx="156.80" cy="467.40" r="1.25" fill="#f35f5b"/>
<circle cx="171.80" cy="467.70" r="1.25" fill="#f35f5b"/>
<circle cx="172.90" cy="464.80" r="1.25" fill="#f35f5b"/>
<circle cx="160.50" cy="478.90" r="1.25" fill="#f35f5b"/>
<circle cx="178.70" cy="448.40" r="1.25" fill="#f35f5b"/>
<circle cx="180.60" cy="449.90" r="1.25" fill="#f35f5b"/>
<circle cx="184.10" cy="447.50" r="1.25" fill="#f35f5b"/>
<circle cx="174.30" cy="453.50" r="1.25" fill="#f35f5b"/>
<circle cx="178.10" cy="454.60" r="1.25" fill="#f35f5b"/>
<circle cx="175.40" cy="460.40" r="1.25" fill="#f35f5b"/>
<circle cx="185.80" cy="457.40" r="1.25" fill="#f35f5b"/>
<circle cx="185.80" cy="460.40" r="1.25" fill="#f35f5b"/>
<circle cx="185.80" cy="464.50" r="1.25" fill="#f35f5b"/>
<circle cx="177.40" cy="467.00" r="1.25" fill="#f35f5b"/>
<circle cx="178.70" cy="467.00" r="1.25" fill="#f35f5b"/>
<path d="M131.80 275.03L133.45 277.89L130.15 277.89Z" fill="#00aa38"/>
<path d="M136.80 299.33L138.45 302.19L135.15 302.19Z" fill="#00aa38"/>
<path d="M147.60 305.63L149.25 308.49L145.95 308.49Z" fill="#00aa38"/>
<path d="M144.60 308.93L146.25 311.79L142.95 311.79Z" fill="#00aa38"/>
<path d="M156.80 325.53L158.45 328.39L155.15 328.39Z" fill="#00aa38"/>
<path d="M160.90 329.13L162.55 331.99L159.25 331.99Z" fill="#00aa38"/>
<path d="M149.10 329.93L150.75 332.79L147.45 332.79Z" fill="#00aa38"/>
<path d="M157.80 335.03L159.45 337.89L156.15 337.89Z" fill="#00aa38"/>
<path d="M171.70 354.13L173.35 356.99L170.05 356.99Z" fill="#00aa38"/>
<path d="M176.70 357.63L178.35 360.49L175.05 360.49Z" fill="#00aa38"/>
<path d="M167.50 359.73L169.15 362.59L165.85 362.59Z" fill="#00aa38"/>
<path d="M181.70 361.33L183.35 364.19L180.05 364.19Z" fill="#00aa38"/>
<path d="M164.50 367.73L166.15 370.59L162.85 370.59Z" fill="#00aa38"/>
<path d="M175.50 367.53L177.15 370.39L173.85 370.39Z" fill="#00aa38"/>
<path d="M150.20 372.33L151.85 375.19L148.55 375.19Z" fill="#00aa38"/>
<path d="M182.80 379.53L184.45 382.39L181.15 382.39Z" fill="#00aa38"/>
<path d="M178.10 386.63L179.75 389.49L176.45 389.49Z" fill="#00aa38"/>
<path d="M171.80 393.03L173.45 395.89L170.15 395.89Z" fill="#00aa38"/>
<path d="M187.00 355.03L188.65 357.89L185.35 357.89Z" fill="#00aa38"/>
<path d="M187.00 356.33L188.65 359.19L185.35 359.19Z" fill="#00aa38"/>
<path d="M189.80 360.03L191.45 362.89L188.15 362.89Z" fill="#00aa38"/>
<path d="M191.10 365.73L192.75 368.59L189.45 368.59Z" fill="#00aa38"/>
<path d="M201.30 375.93L202.95 378.79L199.65 378.79Z" fill="#00aa38"/>
<path d="M190.90 377.33L192.55 380.19L189.25 380.19Z" fill="#00aa38"/>
<path d="M191.90 381.43L193.55 384.29L190.25 384.29Z" fill="#00aa38"/>
<path d="M184.20 392.43L185.85 395.29L182.55 395.29Z" fill="#00aa38"/>
<path d="M200.30 393.63L201.95 396.49L198.65 396.49Z" fill="#00aa38"/>
<path d="M176.30 397.33L177.95 400.19L174.65 400.19Z" fill="#00aa38"/>
<path d="M179.40 396.93L181.05 399.79L177.75 399.79Z" fill="#00aa38"/>
<path d="M198.90 395.63L200.55 398.49L197.25 398.49Z" fill="#00aa38"/>
<path d="M193.60 397.83L195.25 400.69L191.95 400.69Z" fill="#00aa38"/>
<path d="M207.40 396.33L209.05 399.19L205.75 399.19Z" fill="#00aa38"/>
<path d="M202.00 399.43L203.65 402.29L200.35 402.29Z" fill="#00aa38"/>
<path d="M198.00 402.23L199.65 405.09L196.35 405.09Z" fill="#00aa38"/>
<path d="M212.10 404.73L213.75 407.59L210.45 407.59Z" fill="#00aa38"/>
<path d="M232.80 407.93L234.45 410.79L231.15 410.79Z" fill="#00aa38"/>
<path d="M222.90 409.73L224.55 412.59L221.25 412.59Z" fill="#00aa38"/>
<path d="M195.60 409.73L197.25 412.59L193.95 412.59Z" fill="#00aa38"/>
<path d="M196.60 409.73L198.25 412.59L194.95 412.59Z" fill="#00aa38"/>
<path d="M214.00 411.63L215.65 414.49L212.35 414.49Z" fill="#00aa38"/>
<path d="M200.80 412.73L202.45 415.59L199.15 415.59Z" fill="#00aa38"/>
<path d="M210.70 414.73L212.35 417.59L209.05 417.59Z" fill="#00aa38"/>
<path d="M210.20 416.33L211.85 419.19L208.55 419.19Z" fill="#00aa38"/>
<path d="M191.40 420.13L193.05 422.99L189.75 422.99Z" fill="#00aa38"/>
<path d="M195.20 419.23L196.85 422.09L193.55 422.09Z" fill="#00aa38"/>
<path d="M212.10 424.83L213.75 427.69L210.45 427.69Z" fill="#00aa38"/>
<path d="M232.40 424.33L234.05 427.19L230.75 427.19Z" fill="#00aa38"/>
<path d="M227.70 425.73L229.35 428.59L226.05 428.59Z" fill="#00aa38"/>
<path d="M219.20 428.33L220.85 431.19L217.55 431.19Z" fill="#00aa38"/>
<path d="M211.60 429.23L213.25 432.09L209.95 432.09Z" fill="#00aa38"/>
<path d="M224.40 432.63L226.05 435.49L222.75 435.49Z" fill="#00aa38"/>
<path d="M227.20 435.23L228.85 438.09L225.55 438.09Z" fill="#00aa38"/>
<path d="M106.30 342.93L107.95 345.79L104.65 345.79Z" fill="#00aa38"/>
<path d="M102.70 354.43L104.35 357.29L101.05 357.29Z" fill="#00aa38"/>
<path d="M90.60 389.83L92.25 392.69L88.95 392.69Z" fill="#00aa38"/>
<path d="M121.00 363.13L122.65 365.99L119.35 365.99Z" fill="#00aa38"/>
<path d="M122.80 372.83L124.45 375.69L121.15 375.69Z" fill="#00aa38"/>
<path d="M117.90 397.53L119.55 400.39L116.25 400.39Z" fill="#00aa38"/>
<path d="M121.20 416.83L122.85 419.69L119.55 419.69Z" fill="#00aa38"/>
<path d="M135.70 379.93L137.35 382.79L134.05 382.79Z" fill="#00aa38"/>
<path d="M76.80 418.83L78.45 421.69L75.15 421.69Z" fill="#00aa38"/>
<path d="M46.70 428.23L48.35 431.09L45.05 431.09Z" fill="#00aa38"/>
<path d="M48.00 441.63L49.65 444.49L46.35 444.49Z" fill="#00aa38"/>
<path d="M77.80 439.13L79.45 441.99L76.15 441.99Z" fill="#00aa38"/>
<path d="M85.80 436.03L87.45 438.89L84.15 438.89Z" fill="#00aa38"/>
<path d="M91.40 443.13L93.05 445.99L89.75 445.99Z" fill="#00aa38"/>
<path d="M88.40 447.03L90.05 449.89L86.75 449.89Z" fill="#00aa38"/>
<path d="M59.80 451.63L61.45 454.49L58.15 454.49Z" fill="#00aa38"/>
<path d="M109.90 450.73L111.55 453.59L108.25 453.59Z" fill="#00aa38"/>
<path d="M68.50 461.13L70.15 463.99L66.85 463.99Z" fill="#00aa38"/>
<path d="M97.10 458.93L98.75 461.79L95.45 461.79Z" fill="#00aa38"/>
<path d="M88.70 464.83L90.35 467.69L87.05 467.69Z" fill="#00aa38"/>
<path d="M74.80 468.73L76.45 471.59L73.15 471.59Z" fill="#00aa38"/>
<path d="M79.00 471.83L80.65 474.69L77.35 474.69Z" fill="#00aa38"/>
<path d="M77.50 475.73L79.15 478.59L75.85 478.59Z" fill="#00aa38"/>
<path d="M85.10 476.33L86.75 479.19L83.45 479.19Z" fill="#00aa38"/>
<path d="M106.50 475.13L108.15 477.99L104.85 477.99Z" fill="#00aa38"/>
<path d="M157.20 401.33L158.85 404.19L155.55 404.19Z" fill="#00aa38"/>
<path d="M157.20 406.03L158.85 408.89L155.55 408.89Z" fill="#00aa38"/>
<path d="M161.60 412.23L163.25 415.09L159.95 415.09Z" fill="#00aa38"/>
<path d="M151.00 418.03L152.65 420.89L149.35 420.89Z" fill="#00aa38"/>
<path d="M155.00 418.73L156.65 421.59L153.35 421.59Z" fill="#00aa38"/>
<path d="M156.10 418.23L157.75 421.09L154.45 421.09Z" fill="#00aa38"/>
<path d="M135.60 421.33L137.25 424.19L133.95 424.19Z" fill="#00aa38"/>
<path d="M164.00 422.03L165.65 424.89L162.35 424.89Z" fill="#00aa38"/>
<path d="M146.30 424.23L147.95 427.09L144.65 427.09Z" fill="#00aa38"/>
<path d="M144.70 425.83L146.35 428.69L143.05 428.69Z" fill="#00aa38"/>
<path d="M143.00 427.53L144.65 430.39L141.35 430.39Z" fill="#00aa38"/>
<path d="M133.80 428.93L135.45 431.79L132.15 431.79Z" fill="#00aa38"/>
<path d="M133.80 430.73L135.45 433.59L132.15 433.59Z" fill="#00aa38"/>
<path d="M145.80 430.73L147.45 433.59L144.15 433.59Z" fill="#00aa38"/>
<path d="M170.10 428.93L171.75 431.79L168.45 431.79Z" fill="#00aa38"/>
<path d="M173.80 431.83L175.45 434.69L172.15 434.69Z" fill="#00aa38"/>
<path d="M165.40 432.93L167.05 435.79L163.75 435.79Z" fill="#00aa38"/>
<path d="M174.50 434.83L176.15 437.69L172.85 437.69Z" fill="#00aa38"/>
<path d="M165.90 436.23L167.55 439.09L164.25 439.09Z" fill="#00aa38"/>
<path d="M167.00 439.83L168.65 442.69L165.35 442.69Z" fill="#00aa38"/>
<path d="M178.80 439.83L180.45 442.69L177.15 442.69Z" fill="#00aa38"/>
<path d="M156.10 441.13L157.75 443.99L154.45 443.99Z" fill="#00aa38"/>
<path d="M152.60 443.33L154.25 446.19L150.95 446.19Z" fill="#00aa38"/>
<path d="M152.70 444.43L154.35 447.29L151.05 447.29Z" fill="#00aa38"/>
<path d="M152.10 446.33L153.75 449.19L150.45 449.19Z" fill="#00aa38"/>
<path d="M163.80 447.13L165.45 449.99L162.15 449.99Z" fill="#00aa38"/>
<path d="M169.60 444.13L171.25 446.99L167.95 446.99Z" fill="#00aa38"/>
<path d="M169.00 447.73L170.65 450.59L167.35 450.59Z" fill="#00aa38"/>
<path d="M172.30 455.33L173.95 458.19L170.65 458.19Z" fill="#00aa38"/>
<path d="M163.60 460.53L165.25 463.39L161.95 463.39Z" fill="#00aa38"/>
<path d="M186.30 456.93L187.95 459.79L184.65 459.79Z" fill="#00aa38"/>
<path d="M176.50 463.03L178.15 465.89L174.85 465.89Z" fill="#00aa38"/>
<rect x="215.90" y="390.50" width="2.4" height="2.4" fill="#5591f8"/>
<rect x="220.80" y="398.80" width="2.4" height="2.4" fill="#5591f8"/>
<rect x="206.90" y="404.20" width="2.4" height="2.4" fill="#5591f8"/>
<rect x="215.20" y="416.30" width="2.4" height="2.4" fill="#5591f8"/>
<rect x="215.60" y="422.90" width="2.4" height="2.4" fill="#5591f8"/>
<rect x="211.40" y="423.80" width="2.4" height="2.4" fill="#5591f8"/>
<rect x="221.70" y="428.70" width="2.4" height="2.4" fill="#5591f8"/>
<rect x="208.40" y="429.50" width="2.4" height="2.4" fill="#5591f8"/>
<rect x="219.90" y="432.00" width="2.4" height="2.4" fill="#5591f8"/>
<rect x="229.80" y="432.50" width="2.4" height="2.4" fill="#5591f8"/>
<rect x="237.10" y="424.70" width="2.4" height="2.4" fill="#5591f8"/>
<rect x="243.40" y="433.40" width="2.4" height="2.4" fill="#5591f8"/>
<rect x="246.20" y="440.70" width="2.4" height="2.4" fill="#5591f8"/>
<rect x="233.70" y="445.50" width="2.4" height="2.4" fill="#5591f8"/>
<rect x="242.90" y="447.50" width="2.4" height="2.4" fill="#5591f8"/>
<rect x="257.20" y="450.10" width="2.4" height="2.4" fill="#5591f8"/>
<rect x="194.90" y="467.30" width="2.4" height="2.4" fill="#5591f8"/>
<rect x="200.90" y="465.40" width="2.4" height="2.4" fill="#5591f8"/>
<rect x="206.40" y="448.50" width="2.4" height="2.4" fill="#5591f8"/>
<rect x="214.30" y="458.60" width="2.4" height="2.4" fill="#5591f8"/>
<rect x="210.00" y="467.90" width="2.4" height="2.4" fill="#5591f8"/>
<rect x="211.80" y="467.60" width="2.4" height="2.4" fill="#5591f8"/>
<rect x="218.10" y="468.20" width="2.4" height="2.4" fill="#5591f8"/>
<rect x="206.40" y="470.60" width="2.4" height="2.4" fill="#5591f8"/>
<rect x="208.60" y="472.00" width="2.4" height="2.4" fill="#5591f8"/>
<rect x="209.30" y="472.70" width="2.4" height="2.4" fill="#5591f8"/>
<rect x="215.10" y="469.80" width="2.4" height="2.4" fill="#5591f8"/>
<rect x="214.60" y="472.70" width="2.4" height="2.4" fill="#5591f8"/>
<rect x="205.00" y="474.20" width="2.4" height="2.4" fill="#5591f8"/>
<rect x="204.20" y="475.80" width="2.4" height="2.4" fill="#5591f8"/>
<rect x="208.60" y="482.10" width="2.4" height="2.4" fill="#5591f8"/>
<rect x="206.90" y="484.00" width="2.4" height="2.4" fill="#5591f8"/>
<rect x="224.60" y="445.50" width="2.4" height="2.4" fill="#5591f8"/>
<rect x="224.90" y="448.40" width="2.4" height="2.4" fill="#5591f8"/>
<path d="M158.60 406.90L161.30 411.58L155.90 411.58Z" fill="#00aa38"/>
<circle cx="193.60" cy="429.70" r="2.1" fill="#f35f5b"/>
<rect x="217.40" y="446.00" width="4.4" height="4.4" fill="#5591f8"/>
<text x="11.5" y="283.6" font-size="18" font-weight="bold" fill="#000">C</text>
<rect x="209.3" y="270.2" width="60.2" height="54.5" fill="#fff" stroke="#b0b0b0" stroke-width="0.8"/>
<text x="213.4" y="282.6" font-size="10.3" fill="#000">Treatment</text>
<rect x="214.70" y="290.20" width="5" height="5" fill="#5591f8"/>
<text x="224.3" y="295.7" font-size="8.3" fill="#000">CTRL</text>
<path d="M217.20 301.36L220.40 306.91L214.00 306.91Z" fill="#60a610"/>
<text x="224.3" y="307.5" font-size="8.3" fill="#000">CLT</text>
<circle cx="217.20" cy="316.80" r="2.8" fill="#f35f5b"/>
<text x="224.3" y="319.3" font-size="8.3" fill="#000">PHLT</text>
<line x1="314.58" y1="269.4" x2="314.58" y2="496.4" stroke="#f4f4f4" stroke-width="1.3"/>
<line x1="337.05" y1="269.4" x2="337.05" y2="496.4" stroke="#f7f7f7" stroke-width="1.3"/>
<line x1="359.52" y1="269.4" x2="359.52" y2="496.4" stroke="#f4f4f4" stroke-width="1.3"/>
<line x1="381.99" y1="269.4" x2="381.99" y2="496.4" stroke="#f7f7f7" stroke-width="1.3"/>
<line x1="404.46" y1="269.4" x2="404.46" y2="496.4" stroke="#f4f4f4" stroke-width="1.3"/>
<line x1="426.93" y1="269.4" x2="426.93" y2="496.4" stroke="#f7f7f7" stroke-width="1.3"/>
<line x1="449.40" y1="269.4" x2="449.40" y2="496.4" stroke="#f4f4f4" stroke-width="1.3"/>
<line x1="471.87" y1="269.4" x2="471.87" y2="496.4" stroke="#f7f7f7" stroke-width="1.3"/>
<line x1="494.34" y1="269.4" x2="494.34" y2="496.4" stroke="#f4f4f4" stroke-width="1.3"/>
<line x1="516.81" y1="269.4" x2="516.81" y2="496.4" stroke="#f7f7f7" stroke-width="1.3"/>
<line x1="302.5" y1="473.60" x2="535.5" y2="473.60" stroke="#f4f4f4" stroke-width="1.3"/>
<line x1="302.5" y1="448.95" x2="535.5" y2="448.95" stroke="#f7f7f7" stroke-width="1.3"/>
<line x1="302.5" y1="424.30" x2="535.5" y2="424.30" stroke="#f4f4f4" stroke-width="1.3"/>
<line x1="302.5" y1="399.65" x2="535.5" y2="399.65" stroke="#f7f7f7" stroke-width="1.3"/>
<line x1="302.5" y1="375.00" x2="535.5" y2="375.00" stroke="#f4f4f4" stroke-width="1.3"/>
<line x1="302.5" y1="350.35" x2="535.5" y2="350.35" stroke="#f7f7f7" stroke-width="1.3"/>
<line x1="302.5" y1="325.70" x2="535.5" y2="325.70" stroke="#f4f4f4" stroke-width="1.3"/>
<line x1="302.5" y1="301.05" x2="535.5" y2="301.05" stroke="#f7f7f7" stroke-width="1.3"/>
<line x1="302.5" y1="276.40" x2="535.5" y2="276.40" stroke="#f4f4f4" stroke-width="1.3"/>
<line x1="449.40" y1="269.4" x2="449.40" y2="496.4" stroke="#808080" stroke-width="0.8" stroke-dasharray="1.45 1.45"/>
<line x1="302.5" y1="424.30" x2="535.5" y2="424.30" stroke="#808080" stroke-width="0.8" stroke-dasharray="1.45 1.45"/>
<line x1="314.58" y1="496.4" x2="314.58" y2="498.4" stroke="#555" stroke-width="0.6"/>
<text x="314.58" y="505.4" font-size="7.8" fill="#4d4d4d" text-anchor="middle">-6</text>
<line x1="359.52" y1="496.4" x2="359.52" y2="498.4" stroke="#555" stroke-width="0.6"/>
<text x="359.52" y="505.4" font-size="7.8" fill="#4d4d4d" text-anchor="middle">-4</text>
<line x1="404.46" y1="496.4" x2="404.46" y2="498.4" stroke="#555" stroke-width="0.6"/>
<text x="404.46" y="505.4" font-size="7.8" fill="#4d4d4d" text-anchor="middle">-2</text>
<line x1="449.40" y1="496.4" x2="449.40" y2="498.4" stroke="#555" stroke-width="0.6"/>
<text x="449.40" y="505.4" font-size="7.8" fill="#4d4d4d" text-anchor="middle">0</text>
<line x1="494.34" y1="496.4" x2="494.34" y2="498.4" stroke="#555" stroke-width="0.6"/>
<text x="494.34" y="505.4" font-size="7.8" fill="#4d4d4d" text-anchor="middle">2</text>
<line x1="300.5" y1="473.60" x2="302.5" y2="473.60" stroke="#555" stroke-width="0.6"/>
<text x="299.4" y="476.41" font-size="7.8" fill="#4d4d4d" text-anchor="end">-2</text>
<line x1="300.5" y1="424.30" x2="302.5" y2="424.30" stroke="#555" stroke-width="0.6"/>
<text x="299.4" y="427.11" font-size="7.8" fill="#4d4d4d" text-anchor="end">0</text>
<line x1="300.5" y1="375.00" x2="302.5" y2="375.00" stroke="#555" stroke-width="0.6"/>
<text x="299.4" y="377.81" font-size="7.8" fill="#4d4d4d" text-anchor="end">2</text>
<line x1="300.5" y1="325.70" x2="302.5" y2="325.70" stroke="#555" stroke-width="0.6"/>
<text x="299.4" y="328.51" font-size="7.8" fill="#4d4d4d" text-anchor="end">4</text>
<line x1="300.5" y1="276.40" x2="302.5" y2="276.40" stroke="#555" stroke-width="0.6"/>
<text x="299.4" y="279.21" font-size="7.8" fill="#4d4d4d" text-anchor="end">6</text>
<text x="419.00" y="513.7" font-size="7.8" fill="#000" text-anchor="middle">Dim1 (44.2%)</text>
<text transform="translate(290.7,381.30) rotate(-90)" font-size="7.8" fill="#000" text-anchor="middle">Dim2 (26.5%)</text>
<circle cx="431.60" cy="369.90" r="1.25" fill="#f35f5b"/>
<circle cx="417.30" cy="374.50" r="1.25" fill="#f35f5b"/>
<circle cx="449.90" cy="381.70" r="1.25" fill="#f35f5b"/>
<circle cx="445.20" cy="388.80" r="1.25" fill="#f35f5b"/>
<circle cx="438.90" cy="395.20" r="1.25" fill="#f35f5b"/>
<circle cx="459.00" cy="383.60" r="1.25" fill="#f35f5b"/>
<circle cx="478.60" cy="392.10" r="1.25" fill="#f35f5b"/>
<circle cx="451.30" cy="394.60" r="1.25" fill="#f35f5b"/>
<circle cx="443.40" cy="399.50" r="1.25" fill="#f35f5b"/>
<circle cx="446.50" cy="399.10" r="1.25" fill="#f35f5b"/>
<circle cx="466.00" cy="397.80" r="1.25" fill="#f35f5b"/>
<circle cx="460.70" cy="400.00" r="1.25" fill="#f35f5b"/>
<circle cx="476.90" cy="399.20" r="1.25" fill="#f35f5b"/>
<circle cx="480.60" cy="398.10" r="1.25" fill="#f35f5b"/>
<circle cx="475.50" cy="402.80" r="1.25" fill="#f35f5b"/>
<circle cx="475.90" cy="403.70" r="1.25" fill="#f35f5b"/>
<circle cx="465.10" cy="404.40" r="1.25" fill="#f35f5b"/>
<circle cx="482.50" cy="404.10" r="1.25" fill="#f35f5b"/>
<circle cx="483.90" cy="406.30" r="1.25" fill="#f35f5b"/>
<circle cx="485.80" cy="409.10" r="1.25" fill="#f35f5b"/>
<circle cx="492.90" cy="410.30" r="1.25" fill="#f35f5b"/>
<circle cx="499.90" cy="410.10" r="1.25" fill="#f35f5b"/>
<circle cx="462.70" cy="411.90" r="1.25" fill="#f35f5b"/>
<circle cx="481.10" cy="413.80" r="1.25" fill="#f35f5b"/>
<circle cx="483.50" cy="413.50" r="1.25" fill="#f35f5b"/>
<circle cx="489.10" cy="416.90" r="1.25" fill="#f35f5b"/>
<circle cx="498.50" cy="421.80" r="1.25" fill="#f35f5b"/>
<circle cx="458.50" cy="422.30" r="1.25" fill="#f35f5b"/>
<circle cx="462.30" cy="421.40" r="1.25" fill="#f35f5b"/>
<circle cx="494.80" cy="427.90" r="1.25" fill="#f35f5b"/>
<circle cx="491.90" cy="429.40" r="1.25" fill="#f35f5b"/>
<circle cx="507.40" cy="445.40" r="1.25" fill="#f35f5b"/>
<circle cx="357.70" cy="392.00" r="1.25" fill="#f35f5b"/>
<circle cx="343.90" cy="421.00" r="1.25" fill="#f35f5b"/>
<circle cx="313.80" cy="430.40" r="1.25" fill="#f35f5b"/>
<circle cx="315.10" cy="443.80" r="1.25" fill="#f35f5b"/>
<circle cx="344.90" cy="441.30" r="1.25" fill="#f35f5b"/>
<circle cx="352.90" cy="438.20" r="1.25" fill="#f35f5b"/>
<circle cx="358.50" cy="445.30" r="1.25" fill="#f35f5b"/>
<circle cx="355.50" cy="449.20" r="1.25" fill="#f35f5b"/>
<circle cx="326.90" cy="453.80" r="1.25" fill="#f35f5b"/>
<circle cx="377.00" cy="452.90" r="1.25" fill="#f35f5b"/>
<circle cx="335.60" cy="463.30" r="1.25" fill="#f35f5b"/>
<circle cx="364.20" cy="461.10" r="1.25" fill="#f35f5b"/>
<circle cx="355.80" cy="467.00" r="1.25" fill="#f35f5b"/>
<circle cx="341.90" cy="470.90" r="1.25" fill="#f35f5b"/>
<circle cx="346.10" cy="474.00" r="1.25" fill="#f35f5b"/>
<circle cx="344.60" cy="477.90" r="1.25" fill="#f35f5b"/>
<circle cx="352.20" cy="478.50" r="1.25" fill="#f35f5b"/>
<circle cx="373.60" cy="477.30" r="1.25" fill="#f35f5b"/>
<circle cx="415.00" cy="413.60" r="1.25" fill="#f35f5b"/>
<circle cx="409.60" cy="430.40" r="1.25" fill="#f35f5b"/>
<circle cx="417.80" cy="430.20" r="1.25" fill="#f35f5b"/>
<circle cx="430.90" cy="429.10" r="1.25" fill="#f35f5b"/>
<circle cx="426.00" cy="437.00" r="1.25" fill="#f35f5b"/>
<circle cx="428.70" cy="440.60" r="1.25" fill="#f35f5b"/>
<circle cx="440.90" cy="445.30" r="1.25" fill="#f35f5b"/>
<circle cx="455.70" cy="441.80" r="1.25" fill="#f35f5b"/>
<circle cx="416.00" cy="447.40" r="1.25" fill="#f35f5b"/>
<circle cx="440.00" cy="446.30" r="1.25" fill="#f35f5b"/>
<circle cx="431.80" cy="453.40" r="1.25" fill="#f35f5b"/>
<circle cx="436.70" cy="453.40" r="1.25" fill="#f35f5b"/>
<circle cx="407.20" cy="457.20" r="1.25" fill="#f35f5b"/>
<circle cx="423.60" cy="457.50" r="1.25" fill="#f35f5b"/>
<circle cx="430.50" cy="461.00" r="1.25" fill="#f35f5b"/>
<circle cx="423.90" cy="467.80" r="1.25" fill="#f35f5b"/>
<circle cx="451.20" cy="447.90" r="1.25" fill="#f35f5b"/>
<circle cx="445.80" cy="467.40" r="1.25" fill="#f35f5b"/>
<path d="M458.20 366.13L459.85 368.99L456.55 368.99Z" fill="#6ea600"/>
<path d="M468.40 376.33L470.05 379.19L466.75 379.19Z" fill="#6ea600"/>
<path d="M470.50 392.23L472.15 395.09L468.85 395.09Z" fill="#6ea600"/>
<path d="M467.40 394.03L469.05 396.89L465.75 396.89Z" fill="#6ea600"/>
<path d="M474.50 396.73L476.15 399.59L472.85 399.59Z" fill="#6ea600"/>
<path d="M481.60 397.23L483.25 400.09L479.95 400.09Z" fill="#6ea600"/>
<path d="M479.20 405.13L480.85 407.99L477.55 407.99Z" fill="#6ea600"/>
<path d="M490.00 410.13L491.65 412.99L488.35 412.99Z" fill="#6ea600"/>
<path d="M463.70 410.13L465.35 412.99L462.05 412.99Z" fill="#6ea600"/>
<path d="M491.20 412.03L492.85 414.89L489.55 414.89Z" fill="#6ea600"/>
<path d="M467.90 413.13L469.55 415.99L466.25 415.99Z" fill="#6ea600"/>
<path d="M477.80 415.13L479.45 417.99L476.15 417.99Z" fill="#6ea600"/>
<path d="M481.10 416.43L482.75 419.29L479.45 419.29Z" fill="#6ea600"/>
<path d="M494.30 414.43L495.95 417.29L492.65 417.29Z" fill="#6ea600"/>
<path d="M477.30 416.73L478.95 419.59L475.65 419.59Z" fill="#6ea600"/>
<path d="M491.50 420.53L493.15 423.39L489.85 423.39Z" fill="#6ea600"/>
<path d="M484.90 421.23L486.55 424.09L483.25 424.09Z" fill="#6ea600"/>
<path d="M499.00 422.43L500.65 425.29L497.35 425.29Z" fill="#6ea600"/>
<path d="M479.20 425.23L480.85 428.09L477.55 428.09Z" fill="#6ea600"/>
<path d="M499.50 424.73L501.15 427.59L497.85 427.59Z" fill="#6ea600"/>
<path d="M486.30 428.73L487.95 431.59L484.65 431.59Z" fill="#6ea600"/>
<path d="M478.70 429.63L480.35 432.49L477.05 432.49Z" fill="#6ea600"/>
<path d="M489.60 432.73L491.25 435.59L487.95 435.59Z" fill="#6ea600"/>
<path d="M491.50 433.03L493.15 435.89L489.85 435.89Z" fill="#6ea600"/>
<path d="M494.30 435.63L495.95 438.49L492.65 438.49Z" fill="#6ea600"/>
<path d="M506.70 436.23L508.35 439.09L505.05 439.09Z" fill="#6ea600"/>
<path d="M518.70 442.63L520.35 445.49L517.05 445.49Z" fill="#6ea600"/>
<path d="M502.70 444.03L504.35 446.89L501.05 446.89Z" fill="#6ea600"/>
<path d="M508.20 447.03L509.85 449.89L506.55 449.89Z" fill="#6ea600"/>
<path d="M422.10 419.13L423.75 421.99L420.45 421.99Z" fill="#6ea600"/>
<path d="M411.80 426.23L413.45 429.09L410.15 429.09Z" fill="#6ea600"/>
<path d="M410.10 427.93L411.75 430.79L408.45 430.79Z" fill="#6ea600"/>
<path d="M400.90 429.33L402.55 432.19L399.25 432.19Z" fill="#6ea600"/>
<path d="M412.90 431.13L414.55 433.99L411.25 433.99Z" fill="#6ea600"/>
<path d="M437.20 429.33L438.85 432.19L435.55 432.19Z" fill="#6ea600"/>
<path d="M440.90 432.23L442.55 435.09L439.25 435.09Z" fill="#6ea600"/>
<path d="M433.00 436.63L434.65 439.49L431.35 439.49Z" fill="#6ea600"/>
<path d="M434.10 440.23L435.75 443.09L432.45 443.09Z" fill="#6ea600"/>
<path d="M445.90 440.23L447.55 443.09L444.25 443.09Z" fill="#6ea600"/>
<path d="M423.20 441.53L424.85 444.39L421.55 444.39Z" fill="#6ea600"/>
<path d="M419.70 443.73L421.35 446.59L418.05 446.59Z" fill="#6ea600"/>
<path d="M419.80 444.83L421.45 447.69L418.15 447.69Z" fill="#6ea600"/>
<path d="M419.20 446.73L420.85 449.59L417.55 449.59Z" fill="#6ea600"/>
<path d="M429.60 445.63L431.25 448.49L427.95 448.49Z" fill="#6ea600"/>
<path d="M430.90 447.53L432.55 450.39L429.25 450.39Z" fill="#6ea600"/>
<path d="M436.10 448.13L437.75 450.99L434.45 450.99Z" fill="#6ea600"/>
<path d="M426.90 451.13L428.55 453.99L425.25 453.99Z" fill="#6ea600"/>
<path d="M435.60 452.73L437.25 455.59L433.95 455.59Z" fill="#6ea600"/>
<path d="M439.40 455.73L441.05 458.59L437.75 458.59Z" fill="#6ea600"/>
<path d="M423.00 459.53L424.65 462.39L421.35 462.39Z" fill="#6ea600"/>
<path d="M426.50 459.83L428.15 462.69L424.85 462.69Z" fill="#6ea600"/>
<path d="M430.70 460.93L432.35 463.79L429.05 463.79Z" fill="#6ea600"/>
<path d="M440.00 459.03L441.65 461.89L438.35 461.89Z" fill="#6ea600"/>
<path d="M438.90 466.33L440.55 469.19L437.25 469.19Z" fill="#6ea600"/>
<path d="M440.00 463.43L441.65 466.29L438.35 466.29Z" fill="#6ea600"/>
<path d="M427.60 477.53L429.25 480.39L425.95 480.39Z" fill="#6ea600"/>
<path d="M441.40 452.13L443.05 454.99L439.75 454.99Z" fill="#6ea600"/>
<path d="M445.20 453.23L446.85 456.09L443.55 456.09Z" fill="#6ea600"/>
<path d="M442.50 459.03L444.15 461.89L440.85 461.89Z" fill="#6ea600"/>
<path d="M452.90 456.03L454.55 458.89L451.25 458.89Z" fill="#6ea600"/>
<path d="M453.40 457.33L455.05 460.19L451.75 460.19Z" fill="#6ea600"/>
<path d="M452.90 459.03L454.55 461.89L451.25 461.89Z" fill="#6ea600"/>
<path d="M452.90 463.13L454.55 465.99L451.25 465.99Z" fill="#6ea600"/>
<path d="M443.60 463.43L445.25 466.29L441.95 466.29Z" fill="#6ea600"/>
<path d="M396.90 277.20H400.90M398.90 275.20V279.20" stroke="#c98cff" stroke-width="0.75"/>
<path d="M401.90 301.50H405.90M403.90 299.50V303.50" stroke="#c98cff" stroke-width="0.75"/>
<path d="M412.70 307.80H416.70M414.70 305.80V309.80" stroke="#c98cff" stroke-width="0.75"/>
<path d="M409.70 311.10H413.70M411.70 309.10V313.10" stroke="#c98cff" stroke-width="0.75"/>
<path d="M421.90 327.70H425.90M423.90 325.70V329.70" stroke="#c98cff" stroke-width="0.75"/>
<path d="M426.00 331.30H430.00M428.00 329.30V333.30" stroke="#c98cff" stroke-width="0.75"/>
<path d="M414.20 332.10H418.20M416.20 330.10V334.10" stroke="#c98cff" stroke-width="0.75"/>
<path d="M422.90 337.20H426.90M424.90 335.20V339.20" stroke="#c98cff" stroke-width="0.75"/>
<path d="M436.80 356.30H440.80M438.80 354.30V358.30" stroke="#c98cff" stroke-width="0.75"/>
<path d="M441.80 359.80H445.80M443.80 357.80V361.80" stroke="#c98cff" stroke-width="0.75"/>
<path d="M432.60 361.90H436.60M434.60 359.90V363.90" stroke="#c98cff" stroke-width="0.75"/>
<path d="M446.80 363.50H450.80M448.80 361.50V365.50" stroke="#c98cff" stroke-width="0.75"/>
<path d="M440.60 369.70H444.60M442.60 367.70V371.70" stroke="#c98cff" stroke-width="0.75"/>
<path d="M452.10 357.20H456.10M454.10 355.20V359.20" stroke="#c98cff" stroke-width="0.75"/>
<path d="M452.10 358.50H456.10M454.10 356.50V360.50" stroke="#c98cff" stroke-width="0.75"/>
<path d="M454.90 362.20H458.90M456.90 360.20V364.20" stroke="#c98cff" stroke-width="0.75"/>
<path d="M452.50 369.90H456.50M454.50 367.90V371.90" stroke="#c98cff" stroke-width="0.75"/>
<path d="M454.90 371.80H458.90M456.90 369.80V373.80" stroke="#c98cff" stroke-width="0.75"/>
<path d="M461.20 377.80H465.20M463.20 375.80V379.80" stroke="#c98cff" stroke-width="0.75"/>
<path d="M469.40 378.60H473.40M471.40 376.60V380.60" stroke="#c98cff" stroke-width="0.75"/>
<path d="M456.00 379.50H460.00M458.00 377.50V381.50" stroke="#c98cff" stroke-width="0.75"/>
<path d="M463.10 381.10H467.10M465.10 379.10V383.10" stroke="#c98cff" stroke-width="0.75"/>
<path d="M469.70 389.20H473.70M471.70 387.20V391.20" stroke="#c98cff" stroke-width="0.75"/>
<path d="M476.70 399.70H480.70M478.70 397.70V401.70" stroke="#c98cff" stroke-width="0.75"/>
<path d="M467.10 401.60H471.10M469.10 399.60V403.60" stroke="#c98cff" stroke-width="0.75"/>
<path d="M489.20 403.90H493.20M491.20 401.90V405.90" stroke="#c98cff" stroke-width="0.75"/>
<path d="M487.10 408.20H491.10M489.10 406.20V410.20" stroke="#c98cff" stroke-width="0.75"/>
<path d="M485.70 411.30H489.70M487.70 409.30V413.30" stroke="#c98cff" stroke-width="0.75"/>
<path d="M497.90 416.20H501.90M499.90 414.20V418.20" stroke="#c98cff" stroke-width="0.75"/>
<path d="M487.10 419.20H491.10M489.10 417.20V421.20" stroke="#c98cff" stroke-width="0.75"/>
<path d="M495.60 418.10H499.60M497.60 416.10V420.10" stroke="#c98cff" stroke-width="0.75"/>
<path d="M491.30 421.10H495.30M493.30 419.10V423.10" stroke="#c98cff" stroke-width="0.75"/>
<path d="M495.60 428.90H499.60M497.60 426.90V430.90" stroke="#c98cff" stroke-width="0.75"/>
<path d="M371.40 345.10H375.40M373.40 343.10V347.10" stroke="#c98cff" stroke-width="0.75"/>
<path d="M367.80 356.60H371.80M369.80 354.60V358.60" stroke="#c98cff" stroke-width="0.75"/>
<path d="M386.10 365.30H390.10M388.10 363.30V367.30" stroke="#c98cff" stroke-width="0.75"/>
<path d="M387.90 375.00H391.90M389.90 373.00V377.00" stroke="#c98cff" stroke-width="0.75"/>
<path d="M383.00 399.70H387.00M385.00 397.70V401.70" stroke="#c98cff" stroke-width="0.75"/>
<path d="M386.30 419.00H390.30M388.30 417.00V421.00" stroke="#c98cff" stroke-width="0.75"/>
<path d="M398.60 382.30H402.60M400.60 380.30V384.30" stroke="#c98cff" stroke-width="0.75"/>
<path d="M400.80 382.10H404.80M402.80 380.10V384.10" stroke="#c98cff" stroke-width="0.75"/>
<path d="M422.30 403.50H426.30M424.30 401.50V405.50" stroke="#c98cff" stroke-width="0.75"/>
<path d="M421.20 406.80H425.20M423.20 404.80V408.80" stroke="#c98cff" stroke-width="0.75"/>
<path d="M422.30 408.20H426.30M424.30 406.20V410.20" stroke="#c98cff" stroke-width="0.75"/>
<path d="M426.70 414.40H430.70M428.70 412.40V416.40" stroke="#c98cff" stroke-width="0.75"/>
<path d="M433.40 415.50H437.40M435.40 413.50V417.50" stroke="#c98cff" stroke-width="0.75"/>
<path d="M416.10 420.20H420.10M418.10 418.20V422.20" stroke="#c98cff" stroke-width="0.75"/>
<path d="M421.20 420.40H425.20M423.20 418.40V422.40" stroke="#c98cff" stroke-width="0.75"/>
<path d="M400.70 423.50H404.70M402.70 421.50V425.50" stroke="#c98cff" stroke-width="0.75"/>
<path d="M429.10 424.20H433.10M431.10 422.20V426.20" stroke="#c98cff" stroke-width="0.75"/>
<path d="M411.40 426.40H415.40M413.40 424.40V428.40" stroke="#c98cff" stroke-width="0.75"/>
<path d="M421.00 429.70H425.00M423.00 427.70V431.70" stroke="#c98cff" stroke-width="0.75"/>
<path d="M398.90 432.90H402.90M400.90 430.90V434.90" stroke="#c98cff" stroke-width="0.75"/>
<path d="M419.90 433.30H423.90M421.90 431.30V435.30" stroke="#c98cff" stroke-width="0.75"/>
<path d="M430.50 435.10H434.50M432.50 433.10V437.10" stroke="#c98cff" stroke-width="0.75"/>
<path d="M439.60 437.00H443.60M441.60 435.00V439.00" stroke="#c98cff" stroke-width="0.75"/>
<path d="M434.30 440.00H438.30M436.30 438.00V442.00" stroke="#c98cff" stroke-width="0.75"/>
<path d="M436.00 440.00H440.00M438.00 438.00V442.00" stroke="#c98cff" stroke-width="0.75"/>
<path d="M411.40 444.20H415.40M413.40 442.20V446.20" stroke="#c98cff" stroke-width="0.75"/>
<path d="M421.80 444.90H425.80M423.80 442.90V446.90" stroke="#c98cff" stroke-width="0.75"/>
<path d="M432.70 444.40H436.70M434.70 442.40V446.40" stroke="#c98cff" stroke-width="0.75"/>
<path d="M434.70 446.30H438.70M436.70 444.30V448.30" stroke="#c98cff" stroke-width="0.75"/>
<path d="M443.80 448.80H447.80M445.80 446.80V450.80" stroke="#c98cff" stroke-width="0.75"/>
<path d="M445.70 450.30H449.70M447.70 448.30V452.30" stroke="#c98cff" stroke-width="0.75"/>
<path d="M442.50 467.40H446.50M444.50 465.40V469.40" stroke="#c98cff" stroke-width="0.75"/>
<rect x="483.00" y="390.90" width="2.4" height="2.4" fill="#00b5bc"/>
<rect x="487.90" y="399.20" width="2.4" height="2.4" fill="#00b5bc"/>
<rect x="474.00" y="404.60" width="2.4" height="2.4" fill="#00b5bc"/>
<rect x="482.30" y="416.70" width="2.4" height="2.4" fill="#00b5bc"/>
<rect x="482.70" y="423.30" width="2.4" height="2.4" fill="#00b5bc"/>
<rect x="478.50" y="424.20" width="2.4" height="2.4" fill="#00b5bc"/>
<rect x="488.80" y="429.10" width="2.4" height="2.4" fill="#00b5bc"/>
<rect x="475.50" y="429.90" width="2.4" height="2.4" fill="#00b5bc"/>
<rect x="487.00" y="432.40" width="2.4" height="2.4" fill="#00b5bc"/>
<rect x="496.90" y="432.90" width="2.4" height="2.4" fill="#00b5bc"/>
<rect x="504.20" y="425.10" width="2.4" height="2.4" fill="#00b5bc"/>
<rect x="510.50" y="433.80" width="2.4" height="2.4" fill="#00b5bc"/>
<rect x="513.30" y="441.10" width="2.4" height="2.4" fill="#00b5bc"/>
<rect x="500.80" y="445.90" width="2.4" height="2.4" fill="#00b5bc"/>
<rect x="510.00" y="447.90" width="2.4" height="2.4" fill="#00b5bc"/>
<rect x="524.30" y="450.50" width="2.4" height="2.4" fill="#00b5bc"/>
<rect x="462.00" y="467.70" width="2.4" height="2.4" fill="#00b5bc"/>
<rect x="468.00" y="465.80" width="2.4" height="2.4" fill="#00b5bc"/>
<rect x="473.50" y="448.90" width="2.4" height="2.4" fill="#00b5bc"/>
<rect x="481.40" y="459.00" width="2.4" height="2.4" fill="#00b5bc"/>
<rect x="477.10" y="468.30" width="2.4" height="2.4" fill="#00b5bc"/>
<rect x="478.90" y="468.00" width="2.4" height="2.4" fill="#00b5bc"/>
<rect x="485.20" y="468.60" width="2.4" height="2.4" fill="#00b5bc"/>
<rect x="473.50" y="471.00" width="2.4" height="2.4" fill="#00b5bc"/>
<rect x="475.70" y="472.40" width="2.4" height="2.4" fill="#00b5bc"/>
<rect x="476.40" y="473.10" width="2.4" height="2.4" fill="#00b5bc"/>
<rect x="482.20" y="470.20" width="2.4" height="2.4" fill="#00b5bc"/>
<rect x="481.70" y="473.10" width="2.4" height="2.4" fill="#00b5bc"/>
<rect x="472.10" y="474.60" width="2.4" height="2.4" fill="#00b5bc"/>
<rect x="471.30" y="476.20" width="2.4" height="2.4" fill="#00b5bc"/>
<rect x="475.70" y="482.50" width="2.4" height="2.4" fill="#00b5bc"/>
<rect x="474.00" y="484.40" width="2.4" height="2.4" fill="#00b5bc"/>
<rect x="491.70" y="445.90" width="2.4" height="2.4" fill="#00b5bc"/>
<rect x="492.00" y="448.80" width="2.4" height="2.4" fill="#00b5bc"/>
<circle cx="430.60" cy="428.80" r="2.1" fill="#f35f5b"/>
<path d="M460.60 433.10L463.30 437.78L457.90 437.78Z" fill="#6ea600"/>
<rect x="485.40" y="446.60" width="4.4" height="4.4" fill="#00b5bc"/>
<text x="279.5" y="283.6" font-size="18" font-weight="bold" fill="#000">D</text>
<rect x="470.5" y="274.6" width="64.5" height="67.2" fill="#fff" stroke="#b0b0b0" stroke-width="0.8"/>
<text x="475.0" y="287.5" font-size="10.3" fill="#000">Acclimation</text>
<rect x="475.70" y="295.90" width="4.6" height="4.6" fill="#00b5bc"/>
<text x="484.7" y="300.9" font-size="8.3" fill="#000">CTRL</text>
<circle cx="478.00" cy="310.00" r="2.8" fill="#f35f5b"/>
<text x="484.7" y="312.6" font-size="8.3" fill="#000">CA</text>
<path d="M478.00 318.66L481.20 324.21L474.80 324.21Z" fill="#6ea600"/>
<text x="484.7" y="324.8" font-size="8.3" fill="#000">DEA</text>
<path d="M475.50 334.20H480.50M478.00 331.70V336.70" stroke="#c98cff" stroke-width="0.75"/>
<text x="484.7" y="336.9" font-size="8.3" fill="#000">REA</text>
</svg></body></html>
